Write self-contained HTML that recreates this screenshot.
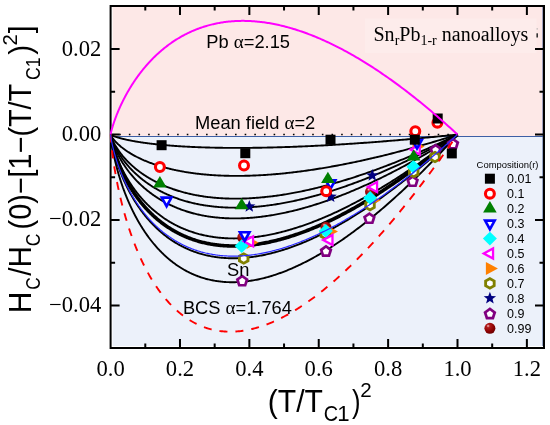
<!DOCTYPE html><html><head><meta charset="utf-8"><style>
html,body{margin:0;padding:0;background:#fff;}
svg{display:block;}
svg{will-change:transform;}
.serif{font-family:"Liberation Serif",serif;}
.sans{font-family:"Liberation Sans",sans-serif;}
</style></head><body>
<svg width="550" height="425" viewBox="0 0 550 425">
<defs>
<radialGradient id="sph" cx="0.38" cy="0.33" r="0.7" fx="0.33" fy="0.28"><stop offset="0" stop-color="#f3c9c9"/><stop offset="0.22" stop-color="#b21a1a"/><stop offset="0.7" stop-color="#8a0000"/><stop offset="1" stop-color="#6a0000"/></radialGradient>
<clipPath id="plot"><rect x="110.6" y="6.0" width="433.4" height="342.0"/></clipPath>
<clipPath id="plot2"><rect x="109.6" y="7.0" width="433.4" height="340.0"/></clipPath>
</defs>
<rect x="112.6" y="6.0" width="430.6" height="130.1" fill="#fde8e7"/>
<rect x="112.6" y="136.1" width="430.6" height="209.9" fill="#ecf1fa"/>
<line x1="110.6" y1="136.5" x2="544.0" y2="136.5" stroke="#3d5fa5" stroke-width="1"/>
<line x1="542.9" y1="7" x2="542.9" y2="346" stroke="#3a5090" stroke-width="0.8"/>
<rect x="365" y="18.5" width="171.5" height="34.5" fill="#fdeceb"/>
<rect x="536.4" y="33.3" width="1.6" height="4.2" fill="#333"/>
<rect x="536.6" y="28.3" width="1.2" height="1.2" fill="#aaa"/>
<g clip-path="url(#plot)">
<line x1="110.6" y1="134.5" x2="457.5" y2="134.5" stroke="#000" stroke-width="1.6" stroke-dasharray="1.6 8.05" stroke-dashoffset="-8.6"/>
<path d="M110.60,134.50 L110.60,134.50 L110.60,134.50 L110.61,134.51 L110.61,134.52 L110.62,134.52 L110.63,134.53 L110.65,134.55 L110.66,134.56 L110.68,134.57 L110.70,134.59 L110.73,134.61 L110.75,134.63 L110.78,134.65 L110.82,134.67 L110.85,134.70 L110.89,134.72 L110.93,134.75 L110.98,134.78 L111.03,134.81 L111.08,134.84 L111.13,134.87 L111.19,134.90 L111.25,134.94 L111.31,134.97 L111.38,135.01 L111.45,135.05 L111.52,135.09 L111.60,135.13 L111.68,135.17 L111.76,135.21 L111.85,135.25 L111.94,135.30 L112.03,135.34 L112.13,135.39 L112.23,135.44 L112.34,135.48 L112.44,135.53 L112.56,135.58 L112.67,135.63 L112.79,135.69 L112.91,135.74 L113.04,135.79 L113.17,135.85 L113.30,135.90 L113.44,135.96 L113.58,136.01 L113.72,136.07 L113.87,136.13 L114.02,136.19 L114.18,136.25 L114.34,136.31 L114.50,136.37 L114.67,136.43 L114.84,136.49 L115.01,136.55 L115.19,136.62 L115.37,136.68 L115.56,136.74 L115.75,136.81 L115.94,136.88 L116.14,136.94 L116.34,137.01 L116.55,137.08 L116.76,137.14 L116.97,137.21 L117.19,137.28 L117.41,137.35 L117.63,137.42 L117.86,137.49 L118.10,137.56 L118.33,137.63 L118.58,137.70 L118.82,137.77 L119.07,137.84 L119.33,137.92 L119.58,137.99 L119.85,138.06 L120.11,138.14 L120.38,138.21 L120.66,138.28 L120.94,138.36 L121.22,138.43 L121.51,138.51 L121.80,138.58 L122.09,138.66 L122.39,138.73 L122.70,138.81 L123.00,138.89 L123.32,138.96 L123.63,139.04 L123.95,139.12 L124.28,139.19 L124.61,139.27 L124.94,139.35 L125.28,139.43 L125.62,139.50 L125.97,139.58 L126.32,139.66 L126.67,139.74 L127.03,139.81 L127.39,139.89 L127.76,139.97 L128.14,140.05 L128.51,140.13 L128.89,140.21 L129.28,140.28 L129.67,140.36 L130.06,140.44 L130.46,140.52 L130.86,140.60 L131.27,140.68 L131.68,140.75 L132.10,140.83 L132.52,140.91 L132.95,140.99 L133.38,141.07 L133.81,141.15 L134.25,141.22 L134.69,141.30 L135.14,141.38 L135.59,141.46 L136.05,141.54 L136.51,141.61 L136.98,141.69 L137.45,141.77 L137.92,141.85 L138.40,141.92 L138.88,142.00 L139.37,142.08 L139.86,142.15 L140.36,142.23 L140.86,142.31 L141.37,142.38 L141.88,142.46 L142.40,142.54 L142.92,142.61 L143.44,142.69 L143.97,142.76 L144.51,142.84 L145.05,142.91 L145.59,142.98 L146.14,143.06 L146.69,143.13 L147.25,143.21 L147.81,143.28 L148.38,143.35 L148.95,143.42 L149.53,143.50 L150.11,143.57 L150.69,143.64 L151.28,143.71 L151.88,143.78 L152.48,143.85 L153.08,143.92 L153.69,143.99 L154.31,144.06 L154.93,144.13 L155.55,144.20 L156.18,144.27 L156.81,144.33 L157.45,144.40 L158.09,144.47 L158.74,144.54 L159.39,144.60 L160.05,144.67 L160.71,144.73 L161.37,144.80 L162.05,144.86 L162.72,144.93 L163.40,144.99 L164.09,145.05 L164.78,145.11 L165.47,145.18 L166.18,145.24 L166.88,145.30 L167.59,145.36 L168.31,145.42 L169.02,145.48 L169.75,145.54 L170.48,145.59 L171.21,145.65 L171.95,145.71 L172.70,145.76 L173.45,145.82 L174.20,145.88 L174.96,145.93 L175.72,145.98 L176.49,146.04 L177.26,146.09 L178.04,146.14 L178.83,146.19 L179.61,146.25 L180.41,146.30 L181.21,146.35 L182.01,146.39 L182.82,146.44 L183.63,146.49 L184.45,146.54 L185.27,146.58 L186.10,146.63 L186.93,146.67 L187.77,146.72 L188.61,146.76 L189.46,146.81 L190.31,146.85 L191.17,146.89 L192.03,146.93 L192.90,146.97 L193.78,147.01 L194.65,147.05 L195.54,147.09 L196.42,147.12 L197.32,147.16 L198.22,147.19 L199.12,147.23 L200.03,147.26 L200.94,147.30 L201.86,147.33 L202.78,147.36 L203.71,147.39 L204.64,147.42 L205.58,147.45 L206.53,147.48 L207.48,147.51 L208.43,147.53 L209.39,147.56 L210.35,147.58 L211.32,147.61 L212.30,147.63 L213.28,147.65 L214.26,147.67 L215.25,147.69 L216.25,147.71 L217.25,147.73 L218.25,147.75 L219.26,147.77 L220.28,147.78 L221.30,147.80 L222.32,147.81 L223.36,147.83 L224.39,147.84 L225.43,147.85 L226.48,147.86 L227.53,147.87 L228.59,147.88 L229.65,147.89 L230.72,147.90 L231.79,147.90 L232.87,147.91 L233.95,147.91 L235.04,147.91 L236.13,147.91 L237.23,147.92 L238.33,147.92 L239.44,147.91 L240.56,147.91 L241.68,147.91 L242.80,147.90 L243.93,147.90 L245.07,147.89 L246.21,147.89 L247.35,147.88 L248.50,147.87 L249.66,147.86 L250.82,147.85 L251.99,147.83 L253.16,147.82 L254.34,147.81 L255.52,147.79 L256.71,147.77 L257.90,147.76 L259.10,147.74 L260.30,147.72 L261.51,147.69 L262.73,147.67 L263.95,147.65 L265.17,147.62 L266.40,147.60 L267.64,147.57 L268.88,147.54 L270.12,147.51 L271.38,147.48 L272.63,147.45 L273.89,147.42 L275.16,147.39 L276.44,147.35 L277.71,147.32 L279.00,147.28 L280.29,147.24 L281.58,147.20 L282.88,147.16 L284.19,147.12 L285.50,147.07 L286.81,147.03 L288.13,146.98 L289.46,146.94 L290.79,146.89 L292.13,146.84 L293.47,146.79 L294.82,146.74 L296.17,146.68 L297.53,146.63 L298.90,146.57 L300.27,146.52 L301.64,146.46 L303.02,146.40 L304.41,146.34 L305.80,146.28 L307.20,146.21 L308.60,146.15 L310.01,146.08 L311.42,146.02 L312.84,145.95 L314.27,145.88 L315.70,145.81 L317.13,145.74 L318.57,145.66 L320.02,145.59 L321.47,145.51 L322.93,145.43 L324.39,145.35 L325.86,145.27 L327.33,145.19 L328.81,145.11 L330.29,145.03 L331.78,144.94 L333.28,144.85 L334.78,144.76 L336.29,144.67 L337.80,144.58 L339.31,144.49 L340.84,144.40 L342.37,144.30 L343.90,144.20 L345.44,144.11 L346.98,144.01 L348.53,143.91 L350.09,143.80 L351.65,143.70 L353.22,143.59 L354.79,143.49 L356.37,143.38 L357.95,143.27 L359.54,143.16 L361.14,143.05 L362.74,142.93 L364.34,142.82 L365.96,142.70 L367.57,142.58 L369.20,142.46 L370.82,142.34 L372.46,142.22 L374.10,142.09 L375.74,141.97 L377.39,141.84 L379.05,141.71 L380.71,141.58 L382.38,141.45 L384.05,141.32 L385.73,141.18 L387.41,141.05 L389.10,140.91 L390.80,140.77 L392.50,140.63 L394.21,140.49 L395.92,140.34 L397.64,140.20 L399.36,140.05 L401.09,139.90 L402.82,139.75 L404.56,139.60 L406.31,139.45 L408.06,139.29 L409.82,139.13 L411.58,138.98 L413.35,138.82 L415.13,138.66 L416.91,138.49 L418.69,138.33 L420.48,138.16 L422.28,137.99 L424.08,137.83 L425.89,137.65 L427.70,137.48 L429.52,137.31 L431.35,137.13 L433.18,136.96 L435.02,136.78 L436.86,136.60 L438.71,136.41 L440.56,136.23 L442.42,136.04 L444.28,135.86 L446.16,135.67 L448.03,135.48 L449.91,135.29 L451.80,135.09 L453.70,134.90 L455.59,134.70 L457.50,134.50" fill="none" stroke="#000" stroke-width="1.9"/>
<path d="M110.60,134.50 L110.60,134.50 L110.60,134.51 L110.61,134.53 L110.61,134.55 L110.62,134.58 L110.63,134.61 L110.65,134.65 L110.66,134.70 L110.68,134.75 L110.70,134.80 L110.73,134.86 L110.75,134.92 L110.78,134.99 L110.82,135.07 L110.85,135.14 L110.89,135.23 L110.93,135.31 L110.98,135.40 L111.03,135.50 L111.08,135.60 L111.13,135.70 L111.19,135.81 L111.25,135.92 L111.31,136.03 L111.38,136.15 L111.45,136.27 L111.52,136.39 L111.60,136.52 L111.68,136.65 L111.76,136.79 L111.85,136.92 L111.94,137.06 L112.03,137.21 L112.13,137.35 L112.23,137.50 L112.34,137.66 L112.44,137.81 L112.56,137.97 L112.67,138.13 L112.79,138.29 L112.91,138.46 L113.04,138.63 L113.17,138.80 L113.30,138.97 L113.44,139.15 L113.58,139.33 L113.72,139.51 L113.87,139.69 L114.02,139.88 L114.18,140.06 L114.34,140.25 L114.50,140.44 L114.67,140.64 L114.84,140.83 L115.01,141.03 L115.19,141.23 L115.37,141.43 L115.56,141.63 L115.75,141.83 L115.94,142.04 L116.14,142.25 L116.34,142.46 L116.55,142.67 L116.76,142.88 L116.97,143.09 L117.19,143.31 L117.41,143.52 L117.63,143.74 L117.86,143.96 L118.10,144.18 L118.33,144.40 L118.58,144.62 L118.82,144.85 L119.07,145.07 L119.33,145.30 L119.58,145.52 L119.85,145.75 L120.11,145.98 L120.38,146.21 L120.66,146.44 L120.94,146.67 L121.22,146.91 L121.51,147.14 L121.80,147.37 L122.09,147.61 L122.39,147.85 L122.70,148.08 L123.00,148.32 L123.32,148.56 L123.63,148.79 L123.95,149.03 L124.28,149.27 L124.61,149.51 L124.94,149.75 L125.28,149.99 L125.62,150.23 L125.97,150.47 L126.32,150.72 L126.67,150.96 L127.03,151.20 L127.39,151.44 L127.76,151.68 L128.14,151.93 L128.51,152.17 L128.89,152.41 L129.28,152.65 L129.67,152.90 L130.06,153.14 L130.46,153.38 L130.86,153.63 L131.27,153.87 L131.68,154.11 L132.10,154.35 L132.52,154.60 L132.95,154.84 L133.38,155.08 L133.81,155.32 L134.25,155.56 L134.69,155.80 L135.14,156.05 L135.59,156.29 L136.05,156.53 L136.51,156.77 L136.98,157.00 L137.45,157.24 L137.92,157.48 L138.40,157.72 L138.88,157.96 L139.37,158.19 L139.86,158.43 L140.36,158.67 L140.86,158.90 L141.37,159.13 L141.88,159.37 L142.40,159.60 L142.92,159.83 L143.44,160.06 L143.97,160.30 L144.51,160.53 L145.05,160.75 L145.59,160.98 L146.14,161.21 L146.69,161.44 L147.25,161.66 L147.81,161.89 L148.38,162.11 L148.95,162.33 L149.53,162.55 L150.11,162.77 L150.69,162.99 L151.28,163.21 L151.88,163.43 L152.48,163.64 L153.08,163.86 L153.69,164.07 L154.31,164.28 L154.93,164.50 L155.55,164.71 L156.18,164.91 L156.81,165.12 L157.45,165.33 L158.09,165.53 L158.74,165.74 L159.39,165.94 L160.05,166.14 L160.71,166.34 L161.37,166.53 L162.05,166.73 L162.72,166.92 L163.40,167.12 L164.09,167.31 L164.78,167.50 L165.47,167.69 L166.18,167.87 L166.88,168.06 L167.59,168.24 L168.31,168.43 L169.02,168.61 L169.75,168.78 L170.48,168.96 L171.21,169.14 L171.95,169.31 L172.70,169.48 L173.45,169.65 L174.20,169.82 L174.96,169.98 L175.72,170.15 L176.49,170.31 L177.26,170.47 L178.04,170.63 L178.83,170.79 L179.61,170.94 L180.41,171.09 L181.21,171.24 L182.01,171.39 L182.82,171.54 L183.63,171.68 L184.45,171.82 L185.27,171.97 L186.10,172.10 L186.93,172.24 L187.77,172.37 L188.61,172.50 L189.46,172.63 L190.31,172.76 L191.17,172.89 L192.03,173.01 L192.90,173.13 L193.78,173.25 L194.65,173.36 L195.54,173.48 L196.42,173.59 L197.32,173.70 L198.22,173.80 L199.12,173.91 L200.03,174.01 L200.94,174.11 L201.86,174.20 L202.78,174.30 L203.71,174.39 L204.64,174.48 L205.58,174.56 L206.53,174.65 L207.48,174.73 L208.43,174.81 L209.39,174.89 L210.35,174.96 L211.32,175.03 L212.30,175.10 L213.28,175.16 L214.26,175.23 L215.25,175.29 L216.25,175.35 L217.25,175.40 L218.25,175.45 L219.26,175.50 L220.28,175.55 L221.30,175.59 L222.32,175.63 L223.36,175.67 L224.39,175.71 L225.43,175.74 L226.48,175.77 L227.53,175.79 L228.59,175.82 L229.65,175.84 L230.72,175.86 L231.79,175.87 L232.87,175.88 L233.95,175.89 L235.04,175.90 L236.13,175.90 L237.23,175.90 L238.33,175.90 L239.44,175.89 L240.56,175.88 L241.68,175.87 L242.80,175.85 L243.93,175.83 L245.07,175.81 L246.21,175.78 L247.35,175.76 L248.50,175.72 L249.66,175.69 L250.82,175.65 L251.99,175.61 L253.16,175.56 L254.34,175.52 L255.52,175.46 L256.71,175.41 L257.90,175.35 L259.10,175.29 L260.30,175.23 L261.51,175.16 L262.73,175.09 L263.95,175.01 L265.17,174.93 L266.40,174.85 L267.64,174.76 L268.88,174.67 L270.12,174.58 L271.38,174.49 L272.63,174.39 L273.89,174.28 L275.16,174.18 L276.44,174.07 L277.71,173.95 L279.00,173.84 L280.29,173.71 L281.58,173.59 L282.88,173.46 L284.19,173.33 L285.50,173.19 L286.81,173.05 L288.13,172.91 L289.46,172.76 L290.79,172.61 L292.13,172.46 L293.47,172.30 L294.82,172.14 L296.17,171.97 L297.53,171.81 L298.90,171.63 L300.27,171.45 L301.64,171.27 L303.02,171.09 L304.41,170.90 L305.80,170.71 L307.20,170.51 L308.60,170.31 L310.01,170.11 L311.42,169.90 L312.84,169.69 L314.27,169.47 L315.70,169.25 L317.13,169.03 L318.57,168.80 L320.02,168.56 L321.47,168.33 L322.93,168.09 L324.39,167.84 L325.86,167.59 L327.33,167.34 L328.81,167.09 L330.29,166.82 L331.78,166.56 L333.28,166.29 L334.78,166.02 L336.29,165.74 L337.80,165.46 L339.31,165.17 L340.84,164.88 L342.37,164.59 L343.90,164.29 L345.44,163.98 L346.98,163.68 L348.53,163.37 L350.09,163.05 L351.65,162.73 L353.22,162.40 L354.79,162.08 L356.37,161.74 L357.95,161.40 L359.54,161.06 L361.14,160.72 L362.74,160.36 L364.34,160.01 L365.96,159.65 L367.57,159.29 L369.20,158.92 L370.82,158.54 L372.46,158.17 L374.10,157.78 L375.74,157.40 L377.39,157.01 L379.05,156.61 L380.71,156.21 L382.38,155.80 L384.05,155.39 L385.73,154.98 L387.41,154.56 L389.10,154.14 L390.80,153.71 L392.50,153.28 L394.21,152.84 L395.92,152.40 L397.64,151.95 L399.36,151.50 L401.09,151.04 L402.82,150.58 L404.56,150.12 L406.31,149.65 L408.06,149.17 L409.82,148.69 L411.58,148.21 L413.35,147.72 L415.13,147.22 L416.91,146.73 L418.69,146.22 L420.48,145.71 L422.28,145.20 L424.08,144.68 L425.89,144.16 L427.70,143.63 L429.52,143.10 L431.35,142.56 L433.18,142.01 L435.02,141.47 L436.86,140.91 L438.71,140.36 L440.56,139.79 L442.42,139.22 L444.28,138.65 L446.16,138.07 L448.03,137.49 L449.91,136.90 L451.80,136.31 L453.70,135.71 L455.59,135.11 L457.50,134.50" fill="none" stroke="#000" stroke-width="1.9"/>
<path d="M110.60,134.50 L110.60,134.51 L110.60,134.52 L110.61,134.55 L110.61,134.58 L110.62,134.63 L110.63,134.69 L110.65,134.75 L110.66,134.82 L110.68,134.90 L110.70,134.99 L110.73,135.09 L110.75,135.19 L110.78,135.30 L110.82,135.42 L110.85,135.54 L110.89,135.68 L110.93,135.81 L110.98,135.96 L111.03,136.11 L111.08,136.27 L111.13,136.43 L111.19,136.60 L111.25,136.78 L111.31,136.96 L111.38,137.15 L111.45,137.34 L111.52,137.54 L111.60,137.74 L111.68,137.95 L111.76,138.16 L111.85,138.38 L111.94,138.61 L112.03,138.83 L112.13,139.07 L112.23,139.30 L112.34,139.55 L112.44,139.79 L112.56,140.04 L112.67,140.30 L112.79,140.55 L112.91,140.82 L113.04,141.08 L113.17,141.35 L113.30,141.63 L113.44,141.90 L113.58,142.19 L113.72,142.47 L113.87,142.76 L114.02,143.05 L114.18,143.34 L114.34,143.64 L114.50,143.94 L114.67,144.25 L114.84,144.55 L115.01,144.86 L115.19,145.17 L115.37,145.49 L115.56,145.81 L115.75,146.13 L115.94,146.45 L116.14,146.78 L116.34,147.10 L116.55,147.43 L116.76,147.77 L116.97,148.10 L117.19,148.44 L117.41,148.78 L117.63,149.12 L117.86,149.46 L118.10,149.80 L118.33,150.15 L118.58,150.50 L118.82,150.85 L119.07,151.20 L119.33,151.55 L119.58,151.91 L119.85,152.27 L120.11,152.62 L120.38,152.98 L120.66,153.34 L120.94,153.71 L121.22,154.07 L121.51,154.43 L121.80,154.80 L122.09,155.16 L122.39,155.53 L122.70,155.90 L123.00,156.27 L123.32,156.64 L123.63,157.01 L123.95,157.38 L124.28,157.76 L124.61,158.13 L124.94,158.50 L125.28,158.88 L125.62,159.25 L125.97,159.63 L126.32,160.00 L126.67,160.38 L127.03,160.75 L127.39,161.13 L127.76,161.51 L128.14,161.88 L128.51,162.26 L128.89,162.64 L129.28,163.02 L129.67,163.39 L130.06,163.77 L130.46,164.15 L130.86,164.52 L131.27,164.90 L131.68,165.28 L132.10,165.65 L132.52,166.03 L132.95,166.40 L133.38,166.78 L133.81,167.15 L134.25,167.53 L134.69,167.90 L135.14,168.28 L135.59,168.65 L136.05,169.02 L136.51,169.39 L136.98,169.76 L137.45,170.13 L137.92,170.50 L138.40,170.87 L138.88,171.24 L139.37,171.60 L139.86,171.97 L140.36,172.33 L140.86,172.69 L141.37,173.06 L141.88,173.42 L142.40,173.78 L142.92,174.14 L143.44,174.49 L143.97,174.85 L144.51,175.20 L145.05,175.56 L145.59,175.91 L146.14,176.26 L146.69,176.61 L147.25,176.96 L147.81,177.30 L148.38,177.65 L148.95,177.99 L149.53,178.33 L150.11,178.67 L150.69,179.01 L151.28,179.35 L151.88,179.68 L152.48,180.01 L153.08,180.34 L153.69,180.67 L154.31,181.00 L154.93,181.32 L155.55,181.65 L156.18,181.97 L156.81,182.29 L157.45,182.60 L158.09,182.92 L158.74,183.23 L159.39,183.54 L160.05,183.85 L160.71,184.15 L161.37,184.46 L162.05,184.76 L162.72,185.06 L163.40,185.35 L164.09,185.65 L164.78,185.94 L165.47,186.23 L166.18,186.52 L166.88,186.80 L167.59,187.08 L168.31,187.36 L169.02,187.64 L169.75,187.91 L170.48,188.18 L171.21,188.45 L171.95,188.71 L172.70,188.98 L173.45,189.23 L174.20,189.49 L174.96,189.75 L175.72,190.00 L176.49,190.24 L177.26,190.49 L178.04,190.73 L178.83,190.97 L179.61,191.21 L180.41,191.44 L181.21,191.67 L182.01,191.89 L182.82,192.12 L183.63,192.34 L184.45,192.55 L185.27,192.77 L186.10,192.98 L186.93,193.18 L187.77,193.39 L188.61,193.59 L189.46,193.78 L190.31,193.98 L191.17,194.17 L192.03,194.35 L192.90,194.54 L193.78,194.71 L194.65,194.89 L195.54,195.06 L196.42,195.23 L197.32,195.39 L198.22,195.55 L199.12,195.71 L200.03,195.86 L200.94,196.01 L201.86,196.16 L202.78,196.30 L203.71,196.44 L204.64,196.57 L205.58,196.70 L206.53,196.83 L207.48,196.95 L208.43,197.07 L209.39,197.18 L210.35,197.29 L211.32,197.40 L212.30,197.50 L213.28,197.60 L214.26,197.69 L215.25,197.78 L216.25,197.87 L217.25,197.95 L218.25,198.03 L219.26,198.10 L220.28,198.17 L221.30,198.23 L222.32,198.29 L223.36,198.34 L224.39,198.39 L225.43,198.44 L226.48,198.48 L227.53,198.52 L228.59,198.55 L229.65,198.58 L230.72,198.60 L231.79,198.62 L232.87,198.64 L233.95,198.65 L235.04,198.65 L236.13,198.65 L237.23,198.65 L238.33,198.64 L239.44,198.62 L240.56,198.60 L241.68,198.58 L242.80,198.55 L243.93,198.52 L245.07,198.48 L246.21,198.44 L247.35,198.39 L248.50,198.33 L249.66,198.28 L250.82,198.21 L251.99,198.15 L253.16,198.07 L254.34,197.99 L255.52,197.91 L256.71,197.82 L257.90,197.73 L259.10,197.63 L260.30,197.53 L261.51,197.42 L262.73,197.30 L263.95,197.18 L265.17,197.06 L266.40,196.93 L267.64,196.79 L268.88,196.65 L270.12,196.50 L271.38,196.35 L272.63,196.19 L273.89,196.03 L275.16,195.86 L276.44,195.69 L277.71,195.51 L279.00,195.32 L280.29,195.13 L281.58,194.94 L282.88,194.74 L284.19,194.53 L285.50,194.32 L286.81,194.10 L288.13,193.87 L289.46,193.64 L290.79,193.41 L292.13,193.17 L293.47,192.92 L294.82,192.67 L296.17,192.41 L297.53,192.14 L298.90,191.87 L300.27,191.60 L301.64,191.31 L303.02,191.02 L304.41,190.73 L305.80,190.43 L307.20,190.12 L308.60,189.81 L310.01,189.49 L311.42,189.17 L312.84,188.84 L314.27,188.50 L315.70,188.16 L317.13,187.81 L318.57,187.45 L320.02,187.09 L321.47,186.73 L322.93,186.35 L324.39,185.97 L325.86,185.59 L327.33,185.19 L328.81,184.79 L330.29,184.39 L331.78,183.98 L333.28,183.56 L334.78,183.14 L336.29,182.70 L337.80,182.27 L339.31,181.82 L340.84,181.37 L342.37,180.92 L343.90,180.45 L345.44,179.98 L346.98,179.51 L348.53,179.03 L350.09,178.54 L351.65,178.04 L353.22,177.54 L354.79,177.03 L356.37,176.51 L357.95,175.99 L359.54,175.46 L361.14,174.92 L362.74,174.38 L364.34,173.83 L365.96,173.28 L367.57,172.71 L369.20,172.14 L370.82,171.56 L372.46,170.98 L374.10,170.39 L375.74,169.79 L377.39,169.19 L379.05,168.58 L380.71,167.96 L382.38,167.33 L384.05,166.70 L385.73,166.06 L387.41,165.41 L389.10,164.76 L390.80,164.10 L392.50,163.43 L394.21,162.76 L395.92,162.07 L397.64,161.39 L399.36,160.69 L401.09,159.98 L402.82,159.27 L404.56,158.56 L406.31,157.83 L408.06,157.10 L409.82,156.36 L411.58,155.61 L413.35,154.86 L415.13,154.09 L416.91,153.32 L418.69,152.55 L420.48,151.76 L422.28,150.97 L424.08,150.17 L425.89,149.37 L427.70,148.55 L429.52,147.73 L431.35,146.90 L433.18,146.07 L435.02,145.22 L436.86,144.37 L438.71,143.51 L440.56,142.65 L442.42,141.77 L444.28,140.89 L446.16,140.00 L448.03,139.10 L449.91,138.20 L451.80,137.28 L453.70,136.36 L455.59,135.44 L457.50,134.50" fill="none" stroke="#000" stroke-width="1.9"/>
<path d="M110.60,134.50 L110.60,134.51 L110.60,134.53 L110.61,134.56 L110.61,134.60 L110.62,134.65 L110.63,134.72 L110.65,134.79 L110.66,134.87 L110.68,134.97 L110.70,135.07 L110.73,135.18 L110.75,135.30 L110.78,135.43 L110.82,135.57 L110.85,135.71 L110.89,135.87 L110.93,136.03 L110.98,136.19 L111.03,136.37 L111.08,136.55 L111.13,136.74 L111.19,136.94 L111.25,137.14 L111.31,137.35 L111.38,137.57 L111.45,137.79 L111.52,138.02 L111.60,138.25 L111.68,138.49 L111.76,138.74 L111.85,138.99 L111.94,139.25 L112.03,139.51 L112.13,139.78 L112.23,140.05 L112.34,140.33 L112.44,140.61 L112.56,140.90 L112.67,141.19 L112.79,141.49 L112.91,141.79 L113.04,142.09 L113.17,142.40 L113.30,142.72 L113.44,143.04 L113.58,143.36 L113.72,143.69 L113.87,144.02 L114.02,144.35 L114.18,144.69 L114.34,145.03 L114.50,145.38 L114.67,145.73 L114.84,146.08 L115.01,146.43 L115.19,146.79 L115.37,147.15 L115.56,147.52 L115.75,147.88 L115.94,148.25 L116.14,148.63 L116.34,149.00 L116.55,149.38 L116.76,149.76 L116.97,150.15 L117.19,150.53 L117.41,150.92 L117.63,151.31 L117.86,151.70 L118.10,152.10 L118.33,152.50 L118.58,152.89 L118.82,153.30 L119.07,153.70 L119.33,154.10 L119.58,154.51 L119.85,154.92 L120.11,155.33 L120.38,155.74 L120.66,156.15 L120.94,156.56 L121.22,156.98 L121.51,157.40 L121.80,157.81 L122.09,158.23 L122.39,158.65 L122.70,159.07 L123.00,159.50 L123.32,159.92 L123.63,160.34 L123.95,160.77 L124.28,161.19 L124.61,161.62 L124.94,162.05 L125.28,162.48 L125.62,162.90 L125.97,163.33 L126.32,163.76 L126.67,164.19 L127.03,164.62 L127.39,165.05 L127.76,165.48 L128.14,165.91 L128.51,166.34 L128.89,166.77 L129.28,167.20 L129.67,167.63 L130.06,168.07 L130.46,168.50 L130.86,168.93 L131.27,169.36 L131.68,169.79 L132.10,170.21 L132.52,170.64 L132.95,171.07 L133.38,171.50 L133.81,171.93 L134.25,172.35 L134.69,172.78 L135.14,173.21 L135.59,173.63 L136.05,174.06 L136.51,174.48 L136.98,174.90 L137.45,175.32 L137.92,175.74 L138.40,176.16 L138.88,176.58 L139.37,177.00 L139.86,177.41 L140.36,177.83 L140.86,178.24 L141.37,178.66 L141.88,179.07 L142.40,179.48 L142.92,179.89 L143.44,180.29 L143.97,180.70 L144.51,181.10 L145.05,181.51 L145.59,181.91 L146.14,182.31 L146.69,182.70 L147.25,183.10 L147.81,183.49 L148.38,183.89 L148.95,184.28 L149.53,184.66 L150.11,185.05 L150.69,185.44 L151.28,185.82 L151.88,186.20 L152.48,186.58 L153.08,186.95 L153.69,187.33 L154.31,187.70 L154.93,188.07 L155.55,188.44 L156.18,188.80 L156.81,189.16 L157.45,189.52 L158.09,189.88 L158.74,190.24 L159.39,190.59 L160.05,190.94 L160.71,191.29 L161.37,191.63 L162.05,191.97 L162.72,192.31 L163.40,192.65 L164.09,192.99 L164.78,193.32 L165.47,193.64 L166.18,193.97 L166.88,194.29 L167.59,194.61 L168.31,194.93 L169.02,195.24 L169.75,195.55 L170.48,195.86 L171.21,196.16 L171.95,196.47 L172.70,196.76 L173.45,197.06 L174.20,197.35 L174.96,197.64 L175.72,197.92 L176.49,198.20 L177.26,198.48 L178.04,198.75 L178.83,199.03 L179.61,199.29 L180.41,199.56 L181.21,199.82 L182.01,200.07 L182.82,200.33 L183.63,200.58 L184.45,200.82 L185.27,201.06 L186.10,201.30 L186.93,201.53 L187.77,201.76 L188.61,201.99 L189.46,202.21 L190.31,202.43 L191.17,202.65 L192.03,202.86 L192.90,203.06 L193.78,203.27 L194.65,203.46 L195.54,203.66 L196.42,203.85 L197.32,204.03 L198.22,204.22 L199.12,204.39 L200.03,204.57 L200.94,204.73 L201.86,204.90 L202.78,205.06 L203.71,205.21 L204.64,205.37 L205.58,205.51 L206.53,205.65 L207.48,205.79 L208.43,205.92 L209.39,206.05 L210.35,206.18 L211.32,206.29 L212.30,206.41 L213.28,206.52 L214.26,206.62 L215.25,206.72 L216.25,206.82 L217.25,206.91 L218.25,206.99 L219.26,207.08 L220.28,207.15 L221.30,207.22 L222.32,207.29 L223.36,207.35 L224.39,207.40 L225.43,207.46 L226.48,207.50 L227.53,207.54 L228.59,207.58 L229.65,207.61 L230.72,207.63 L231.79,207.65 L232.87,207.67 L233.95,207.67 L235.04,207.68 L236.13,207.68 L237.23,207.67 L238.33,207.66 L239.44,207.64 L240.56,207.62 L241.68,207.59 L242.80,207.55 L243.93,207.51 L245.07,207.47 L246.21,207.42 L247.35,207.36 L248.50,207.30 L249.66,207.23 L250.82,207.16 L251.99,207.08 L253.16,206.99 L254.34,206.90 L255.52,206.80 L256.71,206.70 L257.90,206.59 L259.10,206.48 L260.30,206.36 L261.51,206.23 L262.73,206.10 L263.95,205.96 L265.17,205.82 L266.40,205.67 L267.64,205.51 L268.88,205.35 L270.12,205.18 L271.38,205.01 L272.63,204.82 L273.89,204.64 L275.16,204.44 L276.44,204.24 L277.71,204.04 L279.00,203.83 L280.29,203.61 L281.58,203.38 L282.88,203.15 L284.19,202.91 L285.50,202.67 L286.81,202.42 L288.13,202.16 L289.46,201.90 L290.79,201.63 L292.13,201.35 L293.47,201.07 L294.82,200.78 L296.17,200.48 L297.53,200.18 L298.90,199.87 L300.27,199.55 L301.64,199.23 L303.02,198.90 L304.41,198.56 L305.80,198.22 L307.20,197.87 L308.60,197.51 L310.01,197.15 L311.42,196.78 L312.84,196.40 L314.27,196.02 L315.70,195.63 L317.13,195.23 L318.57,194.82 L320.02,194.41 L321.47,193.99 L322.93,193.56 L324.39,193.13 L325.86,192.69 L327.33,192.24 L328.81,191.78 L330.29,191.32 L331.78,190.85 L333.28,190.37 L334.78,189.89 L336.29,189.40 L337.80,188.90 L339.31,188.39 L340.84,187.88 L342.37,187.36 L343.90,186.83 L345.44,186.29 L346.98,185.75 L348.53,185.20 L350.09,184.64 L351.65,184.08 L353.22,183.50 L354.79,182.92 L356.37,182.33 L357.95,181.74 L359.54,181.13 L361.14,180.52 L362.74,179.90 L364.34,179.28 L365.96,178.64 L367.57,178.00 L369.20,177.35 L370.82,176.69 L372.46,176.03 L374.10,175.36 L375.74,174.67 L377.39,173.99 L379.05,173.29 L380.71,172.58 L382.38,171.87 L384.05,171.15 L385.73,170.42 L387.41,169.69 L389.10,168.94 L390.80,168.19 L392.50,167.43 L394.21,166.66 L395.92,165.88 L397.64,165.10 L399.36,164.30 L401.09,163.50 L402.82,162.69 L404.56,161.88 L406.31,161.05 L408.06,160.22 L409.82,159.37 L411.58,158.52 L413.35,157.66 L415.13,156.80 L416.91,155.92 L418.69,155.04 L420.48,154.14 L422.28,153.24 L424.08,152.33 L425.89,151.42 L427.70,150.49 L429.52,149.56 L431.35,148.61 L433.18,147.66 L435.02,146.70 L436.86,145.73 L438.71,144.75 L440.56,143.77 L442.42,142.77 L444.28,141.77 L446.16,140.76 L448.03,139.74 L449.91,138.71 L451.80,137.67 L453.70,136.62 L455.59,135.56 L457.50,134.50" fill="none" stroke="#000" stroke-width="1.9"/>
<path d="M110.60,134.50 L110.60,134.51 L110.60,134.53 L110.61,134.57 L110.61,134.62 L110.62,134.68 L110.63,134.76 L110.65,134.84 L110.66,134.94 L110.68,135.05 L110.70,135.17 L110.73,135.30 L110.75,135.44 L110.78,135.59 L110.82,135.75 L110.85,135.92 L110.89,136.10 L110.93,136.29 L110.98,136.48 L111.03,136.69 L111.08,136.90 L111.13,137.12 L111.19,137.35 L111.25,137.58 L111.31,137.83 L111.38,138.08 L111.45,138.34 L111.52,138.60 L111.60,138.87 L111.68,139.15 L111.76,139.44 L111.85,139.73 L111.94,140.03 L112.03,140.33 L112.13,140.64 L112.23,140.96 L112.34,141.28 L112.44,141.61 L112.56,141.94 L112.67,142.28 L112.79,142.62 L112.91,142.97 L113.04,143.33 L113.17,143.69 L113.30,144.05 L113.44,144.42 L113.58,144.79 L113.72,145.17 L113.87,145.55 L114.02,145.94 L114.18,146.33 L114.34,146.72 L114.50,147.12 L114.67,147.52 L114.84,147.93 L115.01,148.34 L115.19,148.75 L115.37,149.17 L115.56,149.59 L115.75,150.01 L115.94,150.44 L116.14,150.87 L116.34,151.31 L116.55,151.74 L116.76,152.18 L116.97,152.62 L117.19,153.07 L117.41,153.52 L117.63,153.97 L117.86,154.42 L118.10,154.87 L118.33,155.33 L118.58,155.79 L118.82,156.25 L119.07,156.71 L119.33,157.18 L119.58,157.65 L119.85,158.12 L120.11,158.59 L120.38,159.06 L120.66,159.54 L120.94,160.01 L121.22,160.49 L121.51,160.97 L121.80,161.45 L122.09,161.93 L122.39,162.42 L122.70,162.90 L123.00,163.39 L123.32,163.87 L123.63,164.36 L123.95,164.85 L124.28,165.34 L124.61,165.83 L124.94,166.32 L125.28,166.81 L125.62,167.30 L125.97,167.80 L126.32,168.29 L126.67,168.78 L127.03,169.28 L127.39,169.77 L127.76,170.26 L128.14,170.76 L128.51,171.25 L128.89,171.75 L129.28,172.24 L129.67,172.74 L130.06,173.23 L130.46,173.72 L130.86,174.22 L131.27,174.71 L131.68,175.20 L132.10,175.70 L132.52,176.19 L132.95,176.68 L133.38,177.17 L133.81,177.66 L134.25,178.15 L134.69,178.64 L135.14,179.13 L135.59,179.61 L136.05,180.10 L136.51,180.58 L136.98,181.07 L137.45,181.55 L137.92,182.03 L138.40,182.51 L138.88,182.99 L139.37,183.47 L139.86,183.95 L140.36,184.42 L140.86,184.90 L141.37,185.37 L141.88,185.84 L142.40,186.31 L142.92,186.78 L143.44,187.25 L143.97,187.71 L144.51,188.17 L145.05,188.63 L145.59,189.09 L146.14,189.55 L146.69,190.00 L147.25,190.46 L147.81,190.91 L148.38,191.36 L148.95,191.80 L149.53,192.25 L150.11,192.69 L150.69,193.13 L151.28,193.57 L151.88,194.00 L152.48,194.43 L153.08,194.86 L153.69,195.29 L154.31,195.72 L154.93,196.14 L155.55,196.56 L156.18,196.98 L156.81,197.39 L157.45,197.80 L158.09,198.21 L158.74,198.62 L159.39,199.02 L160.05,199.42 L160.71,199.82 L161.37,200.21 L162.05,200.60 L162.72,200.99 L163.40,201.37 L164.09,201.75 L164.78,202.13 L165.47,202.51 L166.18,202.88 L166.88,203.25 L167.59,203.61 L168.31,203.97 L169.02,204.33 L169.75,204.68 L170.48,205.03 L171.21,205.38 L171.95,205.72 L172.70,206.06 L173.45,206.40 L174.20,206.73 L174.96,207.06 L175.72,207.38 L176.49,207.70 L177.26,208.02 L178.04,208.33 L178.83,208.64 L179.61,208.94 L180.41,209.24 L181.21,209.54 L182.01,209.83 L182.82,210.12 L183.63,210.40 L184.45,210.68 L185.27,210.96 L186.10,211.23 L186.93,211.49 L187.77,211.75 L188.61,212.01 L189.46,212.26 L190.31,212.51 L191.17,212.76 L192.03,213.00 L192.90,213.23 L193.78,213.46 L194.65,213.68 L195.54,213.90 L196.42,214.12 L197.32,214.33 L198.22,214.54 L199.12,214.74 L200.03,214.93 L200.94,215.12 L201.86,215.31 L202.78,215.49 L203.71,215.67 L204.64,215.84 L205.58,216.00 L206.53,216.16 L207.48,216.32 L208.43,216.47 L209.39,216.61 L210.35,216.75 L211.32,216.89 L212.30,217.01 L213.28,217.14 L214.26,217.25 L215.25,217.37 L216.25,217.47 L217.25,217.57 L218.25,217.67 L219.26,217.76 L220.28,217.84 L221.30,217.92 L222.32,218.00 L223.36,218.06 L224.39,218.12 L225.43,218.18 L226.48,218.23 L227.53,218.27 L228.59,218.31 L229.65,218.34 L230.72,218.37 L231.79,218.39 L232.87,218.40 L233.95,218.41 L235.04,218.41 L236.13,218.41 L237.23,218.40 L238.33,218.38 L239.44,218.36 L240.56,218.33 L241.68,218.29 L242.80,218.25 L243.93,218.21 L245.07,218.15 L246.21,218.09 L247.35,218.02 L248.50,217.95 L249.66,217.87 L250.82,217.78 L251.99,217.69 L253.16,217.59 L254.34,217.48 L255.52,217.37 L256.71,217.25 L257.90,217.12 L259.10,216.99 L260.30,216.85 L261.51,216.70 L262.73,216.55 L263.95,216.39 L265.17,216.22 L266.40,216.05 L267.64,215.87 L268.88,215.68 L270.12,215.48 L271.38,215.28 L272.63,215.07 L273.89,214.85 L275.16,214.63 L276.44,214.40 L277.71,214.16 L279.00,213.92 L280.29,213.67 L281.58,213.41 L282.88,213.14 L284.19,212.86 L285.50,212.58 L286.81,212.29 L288.13,212.00 L289.46,211.69 L290.79,211.38 L292.13,211.06 L293.47,210.74 L294.82,210.41 L296.17,210.06 L297.53,209.72 L298.90,209.36 L300.27,208.99 L301.64,208.62 L303.02,208.24 L304.41,207.86 L305.80,207.46 L307.20,207.06 L308.60,206.65 L310.01,206.23 L311.42,205.80 L312.84,205.37 L314.27,204.93 L315.70,204.48 L317.13,204.02 L318.57,203.55 L320.02,203.08 L321.47,202.60 L322.93,202.11 L324.39,201.61 L325.86,201.10 L327.33,200.59 L328.81,200.07 L330.29,199.53 L331.78,199.00 L333.28,198.45 L334.78,197.89 L336.29,197.33 L337.80,196.76 L339.31,196.18 L340.84,195.59 L342.37,194.99 L343.90,194.38 L345.44,193.77 L346.98,193.15 L348.53,192.51 L350.09,191.88 L351.65,191.23 L353.22,190.57 L354.79,189.90 L356.37,189.23 L357.95,188.55 L359.54,187.85 L361.14,187.15 L362.74,186.45 L364.34,185.73 L365.96,185.00 L367.57,184.27 L369.20,183.52 L370.82,182.77 L372.46,182.01 L374.10,181.23 L375.74,180.45 L377.39,179.67 L379.05,178.87 L380.71,178.06 L382.38,177.24 L384.05,176.42 L385.73,175.59 L387.41,174.74 L389.10,173.89 L390.80,173.03 L392.50,172.16 L394.21,171.28 L395.92,170.39 L397.64,169.49 L399.36,168.58 L401.09,167.67 L402.82,166.74 L404.56,165.80 L406.31,164.86 L408.06,163.90 L409.82,162.94 L411.58,161.97 L413.35,160.98 L415.13,159.99 L416.91,158.99 L418.69,157.98 L420.48,156.96 L422.28,155.93 L424.08,154.89 L425.89,153.84 L427.70,152.78 L429.52,151.71 L431.35,150.63 L433.18,149.54 L435.02,148.45 L436.86,147.34 L438.71,146.22 L440.56,145.09 L442.42,143.96 L444.28,142.81 L446.16,141.65 L448.03,140.48 L449.91,139.31 L451.80,138.12 L453.70,136.92 L455.59,135.72 L457.50,134.50" fill="none" stroke="#000" stroke-width="1.9"/>
<path d="M110.60,134.50 L110.60,134.51 L110.60,134.54 L110.61,134.59 L110.61,134.66 L110.62,134.74 L110.63,134.83 L110.65,134.95 L110.66,135.07 L110.68,135.22 L110.70,135.37 L110.73,135.54 L110.75,135.72 L110.78,135.91 L110.82,136.11 L110.85,136.33 L110.89,136.56 L110.93,136.80 L110.98,137.05 L111.03,137.31 L111.08,137.58 L111.13,137.86 L111.19,138.15 L111.25,138.45 L111.31,138.76 L111.38,139.08 L111.45,139.40 L111.52,139.74 L111.60,140.09 L111.68,140.44 L111.76,140.80 L111.85,141.17 L111.94,141.55 L112.03,141.93 L112.13,142.32 L112.23,142.72 L112.34,143.13 L112.44,143.54 L112.56,143.96 L112.67,144.39 L112.79,144.82 L112.91,145.26 L113.04,145.71 L113.17,146.16 L113.30,146.62 L113.44,147.08 L113.58,147.55 L113.72,148.02 L113.87,148.50 L114.02,148.99 L114.18,149.48 L114.34,149.98 L114.50,150.48 L114.67,150.98 L114.84,151.49 L115.01,152.00 L115.19,152.52 L115.37,153.05 L115.56,153.57 L115.75,154.10 L115.94,154.64 L116.14,155.18 L116.34,155.72 L116.55,156.27 L116.76,156.81 L116.97,157.37 L117.19,157.92 L117.41,158.48 L117.63,159.05 L117.86,159.61 L118.10,160.18 L118.33,160.75 L118.58,161.32 L118.82,161.90 L119.07,162.48 L119.33,163.06 L119.58,163.64 L119.85,164.23 L120.11,164.82 L120.38,165.41 L120.66,166.00 L120.94,166.59 L121.22,167.19 L121.51,167.79 L121.80,168.39 L122.09,168.99 L122.39,169.59 L122.70,170.19 L123.00,170.79 L123.32,171.40 L123.63,172.01 L123.95,172.61 L124.28,173.22 L124.61,173.83 L124.94,174.44 L125.28,175.05 L125.62,175.66 L125.97,176.28 L126.32,176.89 L126.67,177.50 L127.03,178.11 L127.39,178.73 L127.76,179.34 L128.14,179.95 L128.51,180.57 L128.89,181.18 L129.28,181.80 L129.67,182.41 L130.06,183.02 L130.46,183.63 L130.86,184.25 L131.27,184.86 L131.68,185.47 L132.10,186.08 L132.52,186.69 L132.95,187.30 L133.38,187.91 L133.81,188.51 L134.25,189.12 L134.69,189.72 L135.14,190.33 L135.59,190.93 L136.05,191.53 L136.51,192.13 L136.98,192.73 L137.45,193.33 L137.92,193.92 L138.40,194.52 L138.88,195.11 L139.37,195.70 L139.86,196.29 L140.36,196.88 L140.86,197.47 L141.37,198.05 L141.88,198.63 L142.40,199.21 L142.92,199.79 L143.44,200.36 L143.97,200.94 L144.51,201.51 L145.05,202.08 L145.59,202.64 L146.14,203.21 L146.69,203.77 L147.25,204.33 L147.81,204.88 L148.38,205.43 L148.95,205.98 L149.53,206.53 L150.11,207.08 L150.69,207.62 L151.28,208.16 L151.88,208.69 L152.48,209.23 L153.08,209.76 L153.69,210.28 L154.31,210.81 L154.93,211.32 L155.55,211.84 L156.18,212.35 L156.81,212.86 L157.45,213.37 L158.09,213.87 L158.74,214.37 L159.39,214.87 L160.05,215.36 L160.71,215.85 L161.37,216.33 L162.05,216.81 L162.72,217.28 L163.40,217.76 L164.09,218.22 L164.78,218.69 L165.47,219.15 L166.18,219.60 L166.88,220.05 L167.59,220.50 L168.31,220.94 L169.02,221.38 L169.75,221.82 L170.48,222.25 L171.21,222.67 L171.95,223.09 L172.70,223.51 L173.45,223.92 L174.20,224.32 L174.96,224.72 L175.72,225.12 L176.49,225.51 L177.26,225.90 L178.04,226.28 L178.83,226.66 L179.61,227.03 L180.41,227.40 L181.21,227.76 L182.01,228.11 L182.82,228.46 L183.63,228.81 L184.45,229.15 L185.27,229.48 L186.10,229.81 L186.93,230.14 L187.77,230.46 L188.61,230.77 L189.46,231.08 L190.31,231.38 L191.17,231.68 L192.03,231.97 L192.90,232.25 L193.78,232.53 L194.65,232.80 L195.54,233.07 L196.42,233.33 L197.32,233.58 L198.22,233.83 L199.12,234.08 L200.03,234.31 L200.94,234.54 L201.86,234.77 L202.78,234.99 L203.71,235.20 L204.64,235.40 L205.58,235.60 L206.53,235.80 L207.48,235.98 L208.43,236.16 L209.39,236.33 L210.35,236.50 L211.32,236.66 L212.30,236.81 L213.28,236.96 L214.26,237.10 L215.25,237.23 L216.25,237.36 L217.25,237.48 L218.25,237.59 L219.26,237.70 L220.28,237.80 L221.30,237.89 L222.32,237.97 L223.36,238.05 L224.39,238.12 L225.43,238.18 L226.48,238.24 L227.53,238.29 L228.59,238.33 L229.65,238.36 L230.72,238.39 L231.79,238.41 L232.87,238.42 L233.95,238.43 L235.04,238.42 L236.13,238.41 L237.23,238.39 L238.33,238.37 L239.44,238.33 L240.56,238.29 L241.68,238.24 L242.80,238.18 L243.93,238.12 L245.07,238.05 L246.21,237.97 L247.35,237.88 L248.50,237.78 L249.66,237.68 L250.82,237.56 L251.99,237.44 L253.16,237.32 L254.34,237.18 L255.52,237.03 L256.71,236.88 L257.90,236.72 L259.10,236.55 L260.30,236.37 L261.51,236.18 L262.73,235.99 L263.95,235.78 L265.17,235.57 L266.40,235.35 L267.64,235.12 L268.88,234.89 L270.12,234.64 L271.38,234.38 L272.63,234.12 L273.89,233.85 L275.16,233.57 L276.44,233.28 L277.71,232.98 L279.00,232.67 L280.29,232.36 L281.58,232.03 L282.88,231.70 L284.19,231.35 L285.50,231.00 L286.81,230.64 L288.13,230.27 L289.46,229.89 L290.79,229.50 L292.13,229.10 L293.47,228.70 L294.82,228.28 L296.17,227.85 L297.53,227.42 L298.90,226.97 L300.27,226.52 L301.64,226.06 L303.02,225.58 L304.41,225.10 L305.80,224.61 L307.20,224.11 L308.60,223.60 L310.01,223.08 L311.42,222.55 L312.84,222.01 L314.27,221.46 L315.70,220.90 L317.13,220.33 L318.57,219.75 L320.02,219.16 L321.47,218.56 L322.93,217.96 L324.39,217.34 L325.86,216.71 L327.33,216.07 L328.81,215.42 L330.29,214.76 L331.78,214.10 L333.28,213.42 L334.78,212.73 L336.29,212.03 L337.80,211.32 L339.31,210.60 L340.84,209.87 L342.37,209.13 L343.90,208.38 L345.44,207.62 L346.98,206.85 L348.53,206.07 L350.09,205.27 L351.65,204.47 L353.22,203.66 L354.79,202.83 L356.37,202.00 L357.95,201.15 L359.54,200.30 L361.14,199.43 L362.74,198.56 L364.34,197.67 L365.96,196.77 L367.57,195.86 L369.20,194.94 L370.82,194.01 L372.46,193.07 L374.10,192.11 L375.74,191.15 L377.39,190.18 L379.05,189.19 L380.71,188.19 L382.38,187.19 L384.05,186.17 L385.73,185.14 L387.41,184.10 L389.10,183.04 L390.80,181.98 L392.50,180.91 L394.21,179.82 L395.92,178.72 L397.64,177.61 L399.36,176.49 L401.09,175.36 L402.82,174.22 L404.56,173.07 L406.31,171.90 L408.06,170.72 L409.82,169.53 L411.58,168.33 L413.35,167.12 L415.13,165.90 L416.91,164.67 L418.69,163.42 L420.48,162.16 L422.28,160.89 L424.08,159.61 L425.89,158.32 L427.70,157.01 L429.52,155.69 L431.35,154.36 L433.18,153.02 L435.02,151.67 L436.86,150.31 L438.71,148.93 L440.56,147.54 L442.42,146.14 L444.28,144.73 L446.16,143.30 L448.03,141.87 L449.91,140.42 L451.80,138.96 L453.70,137.48 L455.59,136.00 L457.50,134.50" fill="none" stroke="#000" stroke-width="1.9"/>
<path d="M110.60,134.50 L110.60,134.51 L110.60,134.55 L110.61,134.61 L110.61,134.70 L110.62,134.80 L110.63,134.92 L110.65,135.06 L110.66,135.22 L110.68,135.39 L110.70,135.58 L110.73,135.79 L110.75,136.01 L110.78,136.25 L110.82,136.50 L110.85,136.77 L110.89,137.05 L110.93,137.34 L110.98,137.65 L111.03,137.97 L111.08,138.30 L111.13,138.64 L111.19,139.00 L111.25,139.36 L111.31,139.74 L111.38,140.13 L111.45,140.53 L111.52,140.94 L111.60,141.36 L111.68,141.79 L111.76,142.23 L111.85,142.68 L111.94,143.13 L112.03,143.60 L112.13,144.08 L112.23,144.56 L112.34,145.06 L112.44,145.56 L112.56,146.07 L112.67,146.58 L112.79,147.11 L112.91,147.64 L113.04,148.18 L113.17,148.73 L113.30,149.28 L113.44,149.84 L113.58,150.41 L113.72,150.98 L113.87,151.56 L114.02,152.15 L114.18,152.74 L114.34,153.34 L114.50,153.94 L114.67,154.55 L114.84,155.16 L115.01,155.78 L115.19,156.41 L115.37,157.04 L115.56,157.67 L115.75,158.31 L115.94,158.96 L116.14,159.60 L116.34,160.26 L116.55,160.91 L116.76,161.57 L116.97,162.24 L117.19,162.91 L117.41,163.58 L117.63,164.26 L117.86,164.94 L118.10,165.62 L118.33,166.30 L118.58,166.99 L118.82,167.68 L119.07,168.38 L119.33,169.08 L119.58,169.78 L119.85,170.48 L120.11,171.18 L120.38,171.89 L120.66,172.60 L120.94,173.31 L121.22,174.02 L121.51,174.74 L121.80,175.46 L122.09,176.18 L122.39,176.90 L122.70,177.62 L123.00,178.34 L123.32,179.06 L123.63,179.79 L123.95,180.52 L124.28,181.24 L124.61,181.97 L124.94,182.70 L125.28,183.43 L125.62,184.16 L125.97,184.89 L126.32,185.62 L126.67,186.36 L127.03,187.09 L127.39,187.82 L127.76,188.55 L128.14,189.29 L128.51,190.02 L128.89,190.75 L129.28,191.48 L129.67,192.21 L130.06,192.94 L130.46,193.67 L130.86,194.40 L131.27,195.13 L131.68,195.86 L132.10,196.59 L132.52,197.31 L132.95,198.04 L133.38,198.76 L133.81,199.48 L134.25,200.21 L134.69,200.93 L135.14,201.65 L135.59,202.36 L136.05,203.08 L136.51,203.79 L136.98,204.50 L137.45,205.22 L137.92,205.92 L138.40,206.63 L138.88,207.34 L139.37,208.04 L139.86,208.74 L140.36,209.44 L140.86,210.13 L141.37,210.83 L141.88,211.52 L142.40,212.20 L142.92,212.89 L143.44,213.57 L143.97,214.25 L144.51,214.93 L145.05,215.60 L145.59,216.28 L146.14,216.94 L146.69,217.61 L147.25,218.27 L147.81,218.93 L148.38,219.59 L148.95,220.24 L149.53,220.89 L150.11,221.53 L150.69,222.18 L151.28,222.81 L151.88,223.45 L152.48,224.08 L153.08,224.71 L153.69,225.33 L154.31,225.95 L154.93,226.56 L155.55,227.17 L156.18,227.78 L156.81,228.38 L157.45,228.98 L158.09,229.57 L158.74,230.16 L159.39,230.75 L160.05,231.33 L160.71,231.91 L161.37,232.48 L162.05,233.04 L162.72,233.60 L163.40,234.16 L164.09,234.71 L164.78,235.26 L165.47,235.80 L166.18,236.34 L166.88,236.87 L167.59,237.40 L168.31,237.92 L169.02,238.44 L169.75,238.95 L170.48,239.45 L171.21,239.95 L171.95,240.45 L172.70,240.94 L173.45,241.42 L174.20,241.90 L174.96,242.37 L175.72,242.84 L176.49,243.30 L177.26,243.75 L178.04,244.20 L178.83,244.64 L179.61,245.08 L180.41,245.51 L181.21,245.93 L182.01,246.35 L182.82,246.76 L183.63,247.17 L184.45,247.57 L185.27,247.96 L186.10,248.35 L186.93,248.73 L187.77,249.10 L188.61,249.47 L189.46,249.82 L190.31,250.18 L191.17,250.52 L192.03,250.86 L192.90,251.19 L193.78,251.52 L194.65,251.84 L195.54,252.15 L196.42,252.45 L197.32,252.75 L198.22,253.04 L199.12,253.32 L200.03,253.60 L200.94,253.87 L201.86,254.13 L202.78,254.38 L203.71,254.62 L204.64,254.86 L205.58,255.09 L206.53,255.32 L207.48,255.53 L208.43,255.74 L209.39,255.94 L210.35,256.13 L211.32,256.31 L212.30,256.49 L213.28,256.66 L214.26,256.82 L215.25,256.97 L216.25,257.11 L217.25,257.25 L218.25,257.37 L219.26,257.49 L220.28,257.60 L221.30,257.70 L222.32,257.80 L223.36,257.88 L224.39,257.96 L225.43,258.03 L226.48,258.09 L227.53,258.14 L228.59,258.18 L229.65,258.22 L230.72,258.24 L231.79,258.26 L232.87,258.27 L233.95,258.26 L235.04,258.25 L236.13,258.23 L237.23,258.21 L238.33,258.17 L239.44,258.12 L240.56,258.07 L241.68,258.00 L242.80,257.93 L243.93,257.84 L245.07,257.75 L246.21,257.65 L247.35,257.54 L248.50,257.42 L249.66,257.28 L250.82,257.14 L251.99,256.99 L253.16,256.84 L254.34,256.67 L255.52,256.49 L256.71,256.30 L257.90,256.10 L259.10,255.89 L260.30,255.68 L261.51,255.45 L262.73,255.21 L263.95,254.96 L265.17,254.70 L266.40,254.44 L267.64,254.16 L268.88,253.87 L270.12,253.57 L271.38,253.26 L272.63,252.94 L273.89,252.62 L275.16,252.28 L276.44,251.93 L277.71,251.57 L279.00,251.19 L280.29,250.81 L281.58,250.42 L282.88,250.02 L284.19,249.61 L285.50,249.18 L286.81,248.75 L288.13,248.30 L289.46,247.85 L290.79,247.38 L292.13,246.90 L293.47,246.41 L294.82,245.91 L296.17,245.40 L297.53,244.88 L298.90,244.35 L300.27,243.80 L301.64,243.25 L303.02,242.68 L304.41,242.11 L305.80,241.52 L307.20,240.92 L308.60,240.31 L310.01,239.68 L311.42,239.05 L312.84,238.41 L314.27,237.75 L315.70,237.08 L317.13,236.40 L318.57,235.71 L320.02,235.01 L321.47,234.29 L322.93,233.56 L324.39,232.83 L325.86,232.08 L327.33,231.32 L328.81,230.54 L330.29,229.76 L331.78,228.96 L333.28,228.15 L334.78,227.33 L336.29,226.50 L337.80,225.65 L339.31,224.79 L340.84,223.92 L342.37,223.04 L343.90,222.15 L345.44,221.24 L346.98,220.32 L348.53,219.39 L350.09,218.45 L351.65,217.49 L353.22,216.53 L354.79,215.55 L356.37,214.55 L357.95,213.55 L359.54,212.53 L361.14,211.50 L362.74,210.46 L364.34,209.40 L365.96,208.33 L367.57,207.25 L369.20,206.16 L370.82,205.05 L372.46,203.93 L374.10,202.80 L375.74,201.66 L377.39,200.50 L379.05,199.33 L380.71,198.15 L382.38,196.95 L384.05,195.74 L385.73,194.52 L387.41,193.28 L389.10,192.03 L390.80,190.77 L392.50,189.49 L394.21,188.20 L395.92,186.90 L397.64,185.59 L399.36,184.26 L401.09,182.92 L402.82,181.56 L404.56,180.19 L406.31,178.81 L408.06,177.41 L409.82,176.00 L411.58,174.58 L413.35,173.14 L415.13,171.69 L416.91,170.23 L418.69,168.75 L420.48,167.26 L422.28,165.76 L424.08,164.24 L425.89,162.70 L427.70,161.16 L429.52,159.60 L431.35,158.02 L433.18,156.43 L435.02,154.83 L436.86,153.21 L438.71,151.58 L440.56,149.94 L442.42,148.28 L444.28,146.61 L446.16,144.92 L448.03,143.22 L449.91,141.50 L451.80,139.77 L453.70,138.03 L455.59,136.27 L457.50,134.50" fill="none" stroke="#000" stroke-width="1.9"/>
<path d="M110.60,134.50 L110.60,134.52 L110.60,134.57 L110.61,134.65 L110.61,134.75 L110.62,134.88 L110.63,135.04 L110.65,135.21 L110.66,135.41 L110.68,135.63 L110.70,135.87 L110.73,136.13 L110.75,136.40 L110.78,136.70 L110.82,137.01 L110.85,137.34 L110.89,137.69 L110.93,138.05 L110.98,138.43 L111.03,138.82 L111.08,139.23 L111.13,139.66 L111.19,140.09 L111.25,140.54 L111.31,141.01 L111.38,141.49 L111.45,141.98 L111.52,142.48 L111.60,142.99 L111.68,143.52 L111.76,144.06 L111.85,144.61 L111.94,145.17 L112.03,145.74 L112.13,146.32 L112.23,146.91 L112.34,147.51 L112.44,148.12 L112.56,148.75 L112.67,149.38 L112.79,150.02 L112.91,150.66 L113.04,151.32 L113.17,151.99 L113.30,152.66 L113.44,153.34 L113.58,154.03 L113.72,154.73 L113.87,155.43 L114.02,156.14 L114.18,156.86 L114.34,157.58 L114.50,158.31 L114.67,159.05 L114.84,159.80 L115.01,160.55 L115.19,161.30 L115.37,162.07 L115.56,162.83 L115.75,163.61 L115.94,164.39 L116.14,165.17 L116.34,165.96 L116.55,166.75 L116.76,167.55 L116.97,168.35 L117.19,169.16 L117.41,169.97 L117.63,170.78 L117.86,171.60 L118.10,172.43 L118.33,173.25 L118.58,174.08 L118.82,174.92 L119.07,175.75 L119.33,176.59 L119.58,177.43 L119.85,178.28 L120.11,179.13 L120.38,179.98 L120.66,180.83 L120.94,181.68 L121.22,182.54 L121.51,183.40 L121.80,184.26 L122.09,185.13 L122.39,185.99 L122.70,186.86 L123.00,187.73 L123.32,188.59 L123.63,189.46 L123.95,190.34 L124.28,191.21 L124.61,192.08 L124.94,192.96 L125.28,193.83 L125.62,194.71 L125.97,195.58 L126.32,196.46 L126.67,197.33 L127.03,198.21 L127.39,199.09 L127.76,199.96 L128.14,200.84 L128.51,201.71 L128.89,202.59 L129.28,203.46 L129.67,204.34 L130.06,205.21 L130.46,206.08 L130.86,206.95 L131.27,207.83 L131.68,208.70 L132.10,209.56 L132.52,210.43 L132.95,211.30 L133.38,212.16 L133.81,213.02 L134.25,213.88 L134.69,214.74 L135.14,215.60 L135.59,216.45 L136.05,217.31 L136.51,218.16 L136.98,219.01 L137.45,219.85 L137.92,220.70 L138.40,221.54 L138.88,222.38 L139.37,223.21 L139.86,224.05 L140.36,224.88 L140.86,225.71 L141.37,226.53 L141.88,227.35 L142.40,228.17 L142.92,228.98 L143.44,229.80 L143.97,230.60 L144.51,231.41 L145.05,232.21 L145.59,233.01 L146.14,233.80 L146.69,234.59 L147.25,235.38 L147.81,236.16 L148.38,236.94 L148.95,237.71 L149.53,238.48 L150.11,239.25 L150.69,240.01 L151.28,240.76 L151.88,241.52 L152.48,242.26 L153.08,243.01 L153.69,243.74 L154.31,244.48 L154.93,245.20 L155.55,245.93 L156.18,246.65 L156.81,247.36 L157.45,248.07 L158.09,248.77 L158.74,249.47 L159.39,250.16 L160.05,250.84 L160.71,251.52 L161.37,252.20 L162.05,252.87 L162.72,253.53 L163.40,254.19 L164.09,254.84 L164.78,255.49 L165.47,256.13 L166.18,256.76 L166.88,257.39 L167.59,258.01 L168.31,258.62 L169.02,259.23 L169.75,259.83 L170.48,260.43 L171.21,261.02 L171.95,261.60 L172.70,262.17 L173.45,262.74 L174.20,263.30 L174.96,263.86 L175.72,264.41 L176.49,264.95 L177.26,265.48 L178.04,266.01 L178.83,266.53 L179.61,267.04 L180.41,267.54 L181.21,268.04 L182.01,268.53 L182.82,269.01 L183.63,269.49 L184.45,269.96 L185.27,270.41 L186.10,270.87 L186.93,271.31 L187.77,271.75 L188.61,272.17 L189.46,272.59 L190.31,273.00 L191.17,273.41 L192.03,273.80 L192.90,274.19 L193.78,274.57 L194.65,274.94 L195.54,275.30 L196.42,275.65 L197.32,276.00 L198.22,276.33 L199.12,276.66 L200.03,276.98 L200.94,277.29 L201.86,277.59 L202.78,277.88 L203.71,278.17 L204.64,278.44 L205.58,278.71 L206.53,278.96 L207.48,279.21 L208.43,279.45 L209.39,279.67 L210.35,279.89 L211.32,280.10 L212.30,280.30 L213.28,280.49 L214.26,280.67 L215.25,280.84 L216.25,281.01 L217.25,281.16 L218.25,281.30 L219.26,281.43 L220.28,281.55 L221.30,281.67 L222.32,281.77 L223.36,281.86 L224.39,281.94 L225.43,282.01 L226.48,282.08 L227.53,282.13 L228.59,282.17 L229.65,282.20 L230.72,282.22 L231.79,282.23 L232.87,282.23 L233.95,282.22 L235.04,282.20 L236.13,282.16 L237.23,282.12 L238.33,282.07 L239.44,282.00 L240.56,281.93 L241.68,281.84 L242.80,281.74 L243.93,281.63 L245.07,281.51 L246.21,281.38 L247.35,281.24 L248.50,281.09 L249.66,280.92 L250.82,280.75 L251.99,280.56 L253.16,280.36 L254.34,280.15 L255.52,279.93 L256.71,279.70 L257.90,279.45 L259.10,279.20 L260.30,278.93 L261.51,278.65 L262.73,278.36 L263.95,278.05 L265.17,277.74 L266.40,277.41 L267.64,277.07 L268.88,276.72 L270.12,276.36 L271.38,275.98 L272.63,275.59 L273.89,275.19 L275.16,274.78 L276.44,274.36 L277.71,273.92 L279.00,273.47 L280.29,273.01 L281.58,272.53 L282.88,272.05 L284.19,271.55 L285.50,271.04 L286.81,270.51 L288.13,269.97 L289.46,269.42 L290.79,268.86 L292.13,268.29 L293.47,267.70 L294.82,267.10 L296.17,266.48 L297.53,265.85 L298.90,265.21 L300.27,264.56 L301.64,263.89 L303.02,263.21 L304.41,262.52 L305.80,261.81 L307.20,261.09 L308.60,260.36 L310.01,259.61 L311.42,258.85 L312.84,258.08 L314.27,257.29 L315.70,256.49 L317.13,255.68 L318.57,254.85 L320.02,254.01 L321.47,253.15 L322.93,252.28 L324.39,251.40 L325.86,250.50 L327.33,249.59 L328.81,248.66 L330.29,247.73 L331.78,246.77 L333.28,245.80 L334.78,244.82 L336.29,243.83 L337.80,242.82 L339.31,241.79 L340.84,240.76 L342.37,239.70 L343.90,238.64 L345.44,237.56 L346.98,236.46 L348.53,235.35 L350.09,234.23 L351.65,233.09 L353.22,231.93 L354.79,230.76 L356.37,229.58 L357.95,228.38 L359.54,227.17 L361.14,225.94 L362.74,224.70 L364.34,223.44 L365.96,222.17 L367.57,220.88 L369.20,219.58 L370.82,218.26 L372.46,216.93 L374.10,215.58 L375.74,214.22 L377.39,212.84 L379.05,211.45 L380.71,210.04 L382.38,208.62 L384.05,207.18 L385.73,205.72 L387.41,204.25 L389.10,202.77 L390.80,201.27 L392.50,199.75 L394.21,198.22 L395.92,196.67 L397.64,195.11 L399.36,193.53 L401.09,191.94 L402.82,190.32 L404.56,188.70 L406.31,187.06 L408.06,185.40 L409.82,183.72 L411.58,182.04 L413.35,180.33 L415.13,178.61 L416.91,176.87 L418.69,175.12 L420.48,173.35 L422.28,171.56 L424.08,169.76 L425.89,167.94 L427.70,166.10 L429.52,164.25 L431.35,162.38 L433.18,160.50 L435.02,158.60 L436.86,156.68 L438.71,154.75 L440.56,152.80 L442.42,150.83 L444.28,148.85 L446.16,146.85 L448.03,144.83 L449.91,142.80 L451.80,140.75 L453.70,138.68 L455.59,136.60 L457.50,134.50" fill="none" stroke="#000" stroke-width="1.9"/>
<path d="M110.60,134.50 L110.60,134.51 L110.60,134.55 L110.61,134.60 L110.61,134.67 L110.62,134.76 L110.63,134.87 L110.65,134.99 L110.66,135.13 L110.68,135.28 L110.70,135.45 L110.73,135.63 L110.75,135.83 L110.78,136.04 L110.82,136.26 L110.85,136.49 L110.89,136.74 L110.93,137.00 L110.98,137.27 L111.03,137.55 L111.08,137.85 L111.13,138.15 L111.19,138.47 L111.25,138.79 L111.31,139.13 L111.38,139.47 L111.45,139.83 L111.52,140.19 L111.60,140.56 L111.68,140.94 L111.76,141.34 L111.85,141.73 L111.94,142.14 L112.03,142.56 L112.13,142.98 L112.23,143.41 L112.34,143.85 L112.44,144.30 L112.56,144.75 L112.67,145.21 L112.79,145.68 L112.91,146.16 L113.04,146.64 L113.17,147.12 L113.30,147.62 L113.44,148.12 L113.58,148.63 L113.72,149.14 L113.87,149.66 L114.02,150.18 L114.18,150.71 L114.34,151.24 L114.50,151.78 L114.67,152.33 L114.84,152.87 L115.01,153.43 L115.19,153.99 L115.37,154.55 L115.56,155.12 L115.75,155.69 L115.94,156.27 L116.14,156.85 L116.34,157.43 L116.55,158.02 L116.76,158.61 L116.97,159.21 L117.19,159.81 L117.41,160.41 L117.63,161.01 L117.86,161.62 L118.10,162.23 L118.33,162.85 L118.58,163.47 L118.82,164.09 L119.07,164.71 L119.33,165.33 L119.58,165.96 L119.85,166.59 L120.11,167.22 L120.38,167.86 L120.66,168.50 L120.94,169.13 L121.22,169.77 L121.51,170.42 L121.80,171.06 L122.09,171.71 L122.39,172.35 L122.70,173.00 L123.00,173.65 L123.32,174.30 L123.63,174.95 L123.95,175.61 L124.28,176.26 L124.61,176.91 L124.94,177.57 L125.28,178.23 L125.62,178.88 L125.97,179.54 L126.32,180.20 L126.67,180.86 L127.03,181.51 L127.39,182.17 L127.76,182.83 L128.14,183.49 L128.51,184.15 L128.89,184.81 L129.28,185.47 L129.67,186.12 L130.06,186.78 L130.46,187.44 L130.86,188.10 L131.27,188.75 L131.68,189.41 L132.10,190.06 L132.52,190.72 L132.95,191.37 L133.38,192.02 L133.81,192.67 L134.25,193.32 L134.69,193.97 L135.14,194.62 L135.59,195.27 L136.05,195.91 L136.51,196.56 L136.98,197.20 L137.45,197.84 L137.92,198.48 L138.40,199.12 L138.88,199.75 L139.37,200.38 L139.86,201.02 L140.36,201.65 L140.86,202.27 L141.37,202.90 L141.88,203.52 L142.40,204.14 L142.92,204.76 L143.44,205.38 L143.97,205.99 L144.51,206.60 L145.05,207.21 L145.59,207.82 L146.14,208.42 L146.69,209.03 L147.25,209.62 L147.81,210.22 L148.38,210.81 L148.95,211.40 L149.53,211.99 L150.11,212.57 L150.69,213.15 L151.28,213.73 L151.88,214.30 L152.48,214.87 L153.08,215.44 L153.69,216.00 L154.31,216.56 L154.93,217.12 L155.55,217.67 L156.18,218.22 L156.81,218.76 L157.45,219.30 L158.09,219.84 L158.74,220.38 L159.39,220.91 L160.05,221.43 L160.71,221.95 L161.37,222.47 L162.05,222.98 L162.72,223.49 L163.40,224.00 L164.09,224.50 L164.78,224.99 L165.47,225.48 L166.18,225.97 L166.88,226.45 L167.59,226.93 L168.31,227.40 L169.02,227.87 L169.75,228.34 L170.48,228.79 L171.21,229.25 L171.95,229.70 L172.70,230.14 L173.45,230.58 L174.20,231.01 L174.96,231.44 L175.72,231.86 L176.49,232.28 L177.26,232.70 L178.04,233.10 L178.83,233.50 L179.61,233.90 L180.41,234.29 L181.21,234.68 L182.01,235.06 L182.82,235.43 L183.63,235.80 L184.45,236.16 L185.27,236.52 L186.10,236.87 L186.93,237.22 L187.77,237.56 L188.61,237.89 L189.46,238.22 L190.31,238.54 L191.17,238.86 L192.03,239.16 L192.90,239.47 L193.78,239.76 L194.65,240.05 L195.54,240.34 L196.42,240.62 L197.32,240.89 L198.22,241.15 L199.12,241.41 L200.03,241.66 L200.94,241.91 L201.86,242.15 L202.78,242.38 L203.71,242.60 L204.64,242.82 L205.58,243.03 L206.53,243.24 L207.48,243.43 L208.43,243.62 L209.39,243.81 L210.35,243.98 L211.32,244.15 L212.30,244.32 L213.28,244.47 L214.26,244.62 L215.25,244.76 L216.25,244.89 L217.25,245.02 L218.25,245.14 L219.26,245.25 L220.28,245.35 L221.30,245.45 L222.32,245.53 L223.36,245.62 L224.39,245.69 L225.43,245.75 L226.48,245.81 L227.53,245.86 L228.59,245.90 L229.65,245.94 L230.72,245.96 L231.79,245.98 L232.87,245.99 L233.95,245.99 L235.04,245.99 L236.13,245.97 L237.23,245.95 L238.33,245.92 L239.44,245.88 L240.56,245.84 L241.68,245.78 L242.80,245.72 L243.93,245.65 L245.07,245.57 L246.21,245.48 L247.35,245.38 L248.50,245.28 L249.66,245.16 L250.82,245.04 L251.99,244.91 L253.16,244.77 L254.34,244.62 L255.52,244.46 L256.71,244.29 L257.90,244.12 L259.10,243.93 L260.30,243.74 L261.51,243.54 L262.73,243.33 L263.95,243.11 L265.17,242.88 L266.40,242.64 L267.64,242.39 L268.88,242.14 L270.12,241.87 L271.38,241.59 L272.63,241.31 L273.89,241.02 L275.16,240.71 L276.44,240.40 L277.71,240.08 L279.00,239.75 L280.29,239.41 L281.58,239.06 L282.88,238.70 L284.19,238.33 L285.50,237.95 L286.81,237.56 L288.13,237.16 L289.46,236.75 L290.79,236.33 L292.13,235.90 L293.47,235.47 L294.82,235.02 L296.17,234.56 L297.53,234.09 L298.90,233.61 L300.27,233.13 L301.64,232.63 L303.02,232.12 L304.41,231.60 L305.80,231.07 L307.20,230.53 L308.60,229.98 L310.01,229.43 L311.42,228.86 L312.84,228.28 L314.27,227.69 L315.70,227.08 L317.13,226.47 L318.57,225.85 L320.02,225.22 L321.47,224.58 L322.93,223.92 L324.39,223.26 L325.86,222.58 L327.33,221.90 L328.81,221.20 L330.29,220.50 L331.78,219.78 L333.28,219.05 L334.78,218.31 L336.29,217.56 L337.80,216.80 L339.31,216.03 L340.84,215.24 L342.37,214.45 L343.90,213.64 L345.44,212.83 L346.98,212.00 L348.53,211.16 L350.09,210.31 L351.65,209.45 L353.22,208.58 L354.79,207.70 L356.37,206.80 L357.95,205.90 L359.54,204.98 L361.14,204.05 L362.74,203.11 L364.34,202.16 L365.96,201.19 L367.57,200.22 L369.20,199.23 L370.82,198.23 L372.46,197.22 L374.10,196.20 L375.74,195.17 L377.39,194.13 L379.05,193.07 L380.71,192.00 L382.38,190.92 L384.05,189.83 L385.73,188.73 L387.41,187.61 L389.10,186.48 L390.80,185.34 L392.50,184.19 L394.21,183.03 L395.92,181.85 L397.64,180.67 L399.36,179.47 L401.09,178.25 L402.82,177.03 L404.56,175.79 L406.31,174.54 L408.06,173.28 L409.82,172.01 L411.58,170.73 L413.35,169.43 L415.13,168.12 L416.91,166.80 L418.69,165.46 L420.48,164.11 L422.28,162.75 L424.08,161.38 L425.89,160.00 L427.70,158.60 L429.52,157.19 L431.35,155.76 L433.18,154.33 L435.02,152.88 L436.86,151.42 L438.71,149.95 L440.56,148.46 L442.42,146.96 L444.28,145.45 L446.16,143.92 L448.03,142.38 L449.91,140.83 L451.80,139.27 L453.70,137.69 L455.59,136.10 L457.50,134.50" fill="none" stroke="#000" stroke-width="3.6"/>
</g>
<circle cx="242.80" cy="237.50" r="5.5" fill="url(#sph)"/>
<circle cx="326.00" cy="227.30" r="5.5" fill="url(#sph)"/>
<circle cx="370.50" cy="191.80" r="5.5" fill="url(#sph)"/>
<polygon points="242.20,274.39 235.78,279.06 238.23,286.61 246.17,286.61 248.62,279.06" fill="#800080"/><polygon points="242.20,277.77 238.99,280.10 240.22,283.88 244.18,283.88 245.41,280.10" fill="#fff"/>
<polygon points="326.00,244.69 319.58,249.36 322.03,256.91 329.97,256.91 332.42,249.36" fill="#800080"/><polygon points="326.00,248.07 322.79,250.40 324.02,254.18 327.98,254.18 329.21,250.40" fill="#fff"/>
<polygon points="369.40,211.89 362.98,216.56 365.43,224.11 373.37,224.11 375.82,216.56" fill="#800080"/><polygon points="369.40,215.27 366.19,217.60 367.42,221.38 371.38,221.38 372.61,217.60" fill="#fff"/>
<polygon points="412.60,174.89 406.18,179.56 408.63,187.11 416.57,187.11 419.02,179.56" fill="#800080"/><polygon points="412.60,178.27 409.39,180.60 410.62,184.38 414.58,184.38 415.81,180.60" fill="#fff"/>
<polygon points="435.60,143.39 429.18,148.06 431.63,155.61 439.57,155.61 442.02,148.06" fill="#800080"/><polygon points="435.60,146.77 432.39,149.10 433.62,152.88 437.58,152.88 438.81,149.10" fill="#fff"/>
<polygon points="453.00,137.39 446.58,142.06 449.03,149.61 456.97,149.61 459.42,142.06" fill="#800080"/><polygon points="453.00,140.77 449.79,143.10 451.02,146.88 454.98,146.88 456.21,143.10" fill="#fff"/>
<polygon points="249.30,199.90 247.68,204.18 243.12,204.39 246.68,207.25 245.48,211.66 249.30,209.15 253.12,211.66 251.92,207.25 255.48,204.39 250.92,204.18" fill="#000080"/>
<polygon points="330.70,190.20 329.08,194.48 324.52,194.69 328.08,197.55 326.88,201.96 330.70,199.45 334.52,201.96 333.32,197.55 336.88,194.69 332.32,194.48" fill="#000080"/>
<polygon points="372.30,168.90 370.68,173.18 366.12,173.39 369.68,176.25 368.48,180.66 372.30,178.15 376.12,180.66 374.92,176.25 378.48,173.39 373.92,173.18" fill="#000080"/>
<polygon points="258.50,242.50 246.50,236.00 246.50,249.00" fill="#ff8000"/>
<polygon points="338.00,231.50 326.00,225.00 326.00,238.00" fill="#ff8000"/>
<polygon points="380.80,200.20 368.80,193.70 368.80,206.70" fill="#ff8000"/>
<polygon points="424.50,146.50 412.50,140.00 412.50,153.00" fill="#ff8000"/>
<polygon points="243.70,252.20 249.40,255.35 249.40,261.65 243.70,264.80 238.00,261.65 238.00,255.35" fill="#808000"/><polygon points="243.70,255.35 246.55,256.93 246.55,260.07 243.70,261.65 240.85,260.07 240.85,256.93" fill="#fff"/>
<polygon points="325.30,227.70 331.00,230.85 331.00,237.15 325.30,240.30 319.60,237.15 319.60,230.85" fill="#808000"/><polygon points="325.30,230.85 328.15,232.43 328.15,235.57 325.30,237.15 322.45,235.57 322.45,232.43" fill="#fff"/>
<polygon points="370.00,198.90 375.70,202.05 375.70,208.35 370.00,211.50 364.30,208.35 364.30,202.05" fill="#808000"/><polygon points="370.00,202.05 372.85,203.62 372.85,206.77 370.00,208.35 367.15,206.77 367.15,203.62" fill="#fff"/>
<polygon points="413.70,165.70 419.40,168.85 419.40,175.15 413.70,178.30 408.00,175.15 408.00,168.85" fill="#808000"/><polygon points="413.70,168.85 416.55,170.43 416.55,173.57 413.70,175.15 410.85,173.57 410.85,170.43" fill="#fff"/>
<polygon points="435.00,150.70 440.70,153.85 440.70,160.15 435.00,163.30 429.30,160.15 429.30,153.85" fill="#808000"/><polygon points="435.00,153.85 437.85,155.43 437.85,158.57 435.00,160.15 432.15,158.57 432.15,155.43" fill="#fff"/>
<polygon points="241.70,239.25 248.70,246.10 241.70,252.95 234.70,246.10" fill="#00ffff"/>
<polygon points="325.80,224.05 332.80,230.90 325.80,237.75 318.80,230.90" fill="#00ffff"/>
<polygon points="370.10,191.05 377.10,197.90 370.10,204.75 363.10,197.90" fill="#00ffff"/>
<polygon points="413.40,159.95 420.40,166.80 413.40,173.65 406.40,166.80" fill="#00ffff"/>
<polygon points="241.40,241.30 254.20,234.40 254.20,248.20" fill="#ff00ff"/><polygon points="246.17,241.30 251.93,238.19 251.93,244.41" fill="#fff"/>
<polygon points="320.80,240.00 333.60,233.10 333.60,246.90" fill="#ff00ff"/><polygon points="325.57,240.00 331.33,236.89 331.33,243.10" fill="#fff"/>
<polygon points="365.40,187.10 378.20,180.20 378.20,194.00" fill="#ff00ff"/><polygon points="370.17,187.10 375.93,184.00 375.93,190.20" fill="#fff"/>
<polygon points="408.10,149.50 420.90,142.60 420.90,156.40" fill="#ff00ff"/><polygon points="412.87,149.50 418.63,146.40 418.63,152.61" fill="#fff"/>
<polygon points="159.60,196.30 173.60,196.30 166.60,208.90" fill="#0000ff"/><polygon points="164.08,198.94 169.12,198.94 166.60,203.47" fill="#fff"/>
<polygon points="237.70,230.90 251.70,230.90 244.70,243.50" fill="#0000ff"/><polygon points="242.18,233.54 247.22,233.54 244.70,238.07" fill="#fff"/>
<polygon points="323.50,178.90 337.50,178.90 330.50,191.50" fill="#0000ff"/><polygon points="327.98,181.54 333.02,181.54 330.50,186.07" fill="#fff"/>
<polygon points="410.00,138.70 424.00,138.70 417.00,151.30" fill="#0000ff"/><polygon points="414.48,141.34 419.52,141.34 417.00,145.87" fill="#fff"/>
<polygon points="159.90,176.00 166.70,187.40 153.10,187.40" fill="#008000"/>
<polygon points="241.70,197.90 248.50,209.30 234.90,209.30" fill="#008000"/>
<polygon points="327.90,171.70 334.70,183.10 321.10,183.10" fill="#008000"/>
<polygon points="413.70,149.20 420.50,160.60 406.90,160.60" fill="#008000"/>
<circle cx="159.90" cy="167.00" r="4.45" fill="#fff" stroke="#ff0000" stroke-width="3.1"/>
<circle cx="244.00" cy="165.50" r="4.45" fill="#fff" stroke="#ff0000" stroke-width="3.1"/>
<circle cx="326.20" cy="191.20" r="4.45" fill="#fff" stroke="#ff0000" stroke-width="3.1"/>
<circle cx="415.30" cy="131.20" r="4.45" fill="#fff" stroke="#ff0000" stroke-width="3.1"/>
<circle cx="437.40" cy="122.70" r="4.45" fill="#fff" stroke="#ff0000" stroke-width="3.1"/>
<rect x="156.60" y="140.20" width="10.00" height="10.00" fill="#000"/>
<rect x="240.30" y="148.20" width="10.00" height="10.00" fill="#000"/>
<rect x="325.50" y="134.70" width="10.00" height="10.00" fill="#000"/>
<rect x="409.80" y="134.70" width="10.00" height="10.00" fill="#000"/>
<rect x="432.70" y="113.50" width="10.00" height="10.00" fill="#000"/>
<rect x="446.80" y="148.40" width="10.00" height="10.00" fill="#000"/>
<rect x="110.6" y="6.0" width="433.4" height="342.0" fill="none" stroke="#000" stroke-width="2"/>
<path d="M145.29,348.00 V343.50 M145.29,6.00 V10.50 M179.98,348.00 V339.00 M179.98,6.00 V15.00 M214.67,348.00 V343.50 M214.67,6.00 V10.50 M249.36,348.00 V339.00 M249.36,6.00 V15.00 M284.05,348.00 V343.50 M284.05,6.00 V10.50 M318.74,348.00 V339.00 M318.74,6.00 V15.00 M353.43,348.00 V343.50 M353.43,6.00 V10.50 M388.12,348.00 V339.00 M388.12,6.00 V15.00 M422.81,348.00 V343.50 M422.81,6.00 V10.50 M457.50,348.00 V339.00 M457.50,6.00 V15.00 M492.19,348.00 V343.50 M492.19,6.00 V10.50 M526.88,348.00 V339.00 M526.88,6.00 V15.00 M110.60,305.38 H119.60 M544.00,305.38 H535.00 M110.60,262.66 H115.10 M544.00,262.66 H539.50 M110.60,219.94 H119.60 M544.00,219.94 H535.00 M110.60,177.22 H115.10 M544.00,177.22 H539.50 M110.60,134.50 H119.60 M544.00,134.50 H535.00 M110.60,91.78 H115.10 M544.00,91.78 H539.50 M110.60,49.06 H119.60 M544.00,49.06 H535.00" stroke="#000" stroke-width="2" fill="none"/>
<g clip-path="url(#plot2)">
<path d="M110.60,134.50 L110.60,134.49 L110.60,134.48 L110.61,134.45 L110.61,134.41 L110.62,134.36 L110.63,134.29 L110.65,134.22 L110.66,134.13 L110.68,134.03 L110.70,133.92 L110.73,133.80 L110.75,133.66 L110.78,133.52 L110.82,133.36 L110.85,133.20 L110.89,133.02 L110.93,132.83 L110.98,132.64 L111.03,132.43 L111.08,132.21 L111.13,131.99 L111.19,131.75 L111.25,131.50 L111.31,131.25 L111.38,130.98 L111.45,130.71 L111.52,130.42 L111.60,130.13 L111.68,129.83 L111.76,129.52 L111.85,129.20 L111.94,128.88 L112.03,128.54 L112.13,128.20 L112.23,127.85 L112.34,127.49 L112.44,127.12 L112.56,126.75 L112.67,126.37 L112.79,125.98 L112.91,125.58 L113.04,125.18 L113.17,124.77 L113.30,124.35 L113.44,123.93 L113.58,123.50 L113.72,123.06 L113.87,122.62 L114.02,122.17 L114.18,121.71 L114.34,121.25 L114.50,120.78 L114.67,120.30 L114.84,119.82 L115.01,119.34 L115.19,118.84 L115.37,118.35 L115.56,117.84 L115.75,117.34 L115.94,116.82 L116.14,116.30 L116.34,115.78 L116.55,115.25 L116.76,114.72 L116.97,114.18 L117.19,113.64 L117.41,113.09 L117.63,112.54 L117.86,111.99 L118.10,111.43 L118.33,110.86 L118.58,110.29 L118.82,109.72 L119.07,109.15 L119.33,108.57 L119.58,107.98 L119.85,107.40 L120.11,106.81 L120.38,106.21 L120.66,105.62 L120.94,105.02 L121.22,104.41 L121.51,103.81 L121.80,103.20 L122.09,102.59 L122.39,101.97 L122.70,101.35 L123.00,100.73 L123.32,100.11 L123.63,99.49 L123.95,98.86 L124.28,98.23 L124.61,97.60 L124.94,96.97 L125.28,96.33 L125.62,95.69 L125.97,95.05 L126.32,94.41 L126.67,93.77 L127.03,93.13 L127.39,92.48 L127.76,91.84 L128.14,91.19 L128.51,90.54 L128.89,89.89 L129.28,89.24 L129.67,88.58 L130.06,87.93 L130.46,87.28 L130.86,86.62 L131.27,85.97 L131.68,85.31 L132.10,84.65 L132.52,84.00 L132.95,83.34 L133.38,82.68 L133.81,82.03 L134.25,81.37 L134.69,80.71 L135.14,80.05 L135.59,79.40 L136.05,78.74 L136.51,78.08 L136.98,77.42 L137.45,76.77 L137.92,76.11 L138.40,75.46 L138.88,74.80 L139.37,74.15 L139.86,73.50 L140.36,72.85 L140.86,72.19 L141.37,71.54 L141.88,70.90 L142.40,70.25 L142.92,69.60 L143.44,68.96 L143.97,68.31 L144.51,67.67 L145.05,67.03 L145.59,66.39 L146.14,65.75 L146.69,65.12 L147.25,64.48 L147.81,63.85 L148.38,63.22 L148.95,62.60 L149.53,61.97 L150.11,61.35 L150.69,60.73 L151.28,60.11 L151.88,59.49 L152.48,58.88 L153.08,58.26 L153.69,57.66 L154.31,57.05 L154.93,56.45 L155.55,55.84 L156.18,55.25 L156.81,54.65 L157.45,54.06 L158.09,53.47 L158.74,52.89 L159.39,52.30 L160.05,51.72 L160.71,51.15 L161.37,50.58 L162.05,50.01 L162.72,49.44 L163.40,48.88 L164.09,48.32 L164.78,47.77 L165.47,47.22 L166.18,46.67 L166.88,46.13 L167.59,45.59 L168.31,45.05 L169.02,44.52 L169.75,44.00 L170.48,43.47 L171.21,42.96 L171.95,42.44 L172.70,41.93 L173.45,41.43 L174.20,40.93 L174.96,40.43 L175.72,39.94 L176.49,39.46 L177.26,38.98 L178.04,38.50 L178.83,38.03 L179.61,37.56 L180.41,37.10 L181.21,36.65 L182.01,36.19 L182.82,35.75 L183.63,35.31 L184.45,34.87 L185.27,34.44 L186.10,34.02 L186.93,33.60 L187.77,33.19 L188.61,32.78 L189.46,32.38 L190.31,31.99 L191.17,31.60 L192.03,31.21 L192.90,30.83 L193.78,30.46 L194.65,30.10 L195.54,29.74 L196.42,29.39 L197.32,29.04 L198.22,28.70 L199.12,28.36 L200.03,28.04 L200.94,27.71 L201.86,27.40 L202.78,27.09 L203.71,26.79 L204.64,26.50 L205.58,26.21 L206.53,25.93 L207.48,25.65 L208.43,25.39 L209.39,25.13 L210.35,24.87 L211.32,24.63 L212.30,24.39 L213.28,24.16 L214.26,23.94 L215.25,23.72 L216.25,23.51 L217.25,23.31 L218.25,23.11 L219.26,22.93 L220.28,22.75 L221.30,22.58 L222.32,22.42 L223.36,22.26 L224.39,22.11 L225.43,21.97 L226.48,21.84 L227.53,21.72 L228.59,21.60 L229.65,21.50 L230.72,21.40 L231.79,21.31 L232.87,21.22 L233.95,21.15 L235.04,21.08 L236.13,21.03 L237.23,20.98 L238.33,20.94 L239.44,20.91 L240.56,20.89 L241.68,20.87 L242.80,20.87 L243.93,20.87 L245.07,20.88 L246.21,20.91 L247.35,20.94 L248.50,20.98 L249.66,21.03 L250.82,21.08 L251.99,21.15 L253.16,21.23 L254.34,21.32 L255.52,21.41 L256.71,21.52 L257.90,21.63 L259.10,21.75 L260.30,21.89 L261.51,22.03 L262.73,22.19 L263.95,22.35 L265.17,22.52 L266.40,22.70 L267.64,22.90 L268.88,23.10 L270.12,23.31 L271.38,23.54 L272.63,23.77 L273.89,24.01 L275.16,24.26 L276.44,24.53 L277.71,24.80 L279.00,25.09 L280.29,25.38 L281.58,25.69 L282.88,26.00 L284.19,26.33 L285.50,26.67 L286.81,27.01 L288.13,27.37 L289.46,27.74 L290.79,28.12 L292.13,28.51 L293.47,28.92 L294.82,29.33 L296.17,29.75 L297.53,30.19 L298.90,30.63 L300.27,31.09 L301.64,31.56 L303.02,32.04 L304.41,32.53 L305.80,33.04 L307.20,33.55 L308.60,34.08 L310.01,34.61 L311.42,35.16 L312.84,35.72 L314.27,36.30 L315.70,36.88 L317.13,37.48 L318.57,38.08 L320.02,38.70 L321.47,39.34 L322.93,39.98 L324.39,40.63 L325.86,41.30 L327.33,41.98 L328.81,42.67 L330.29,43.38 L331.78,44.10 L333.28,44.82 L334.78,45.57 L336.29,46.32 L337.80,47.09 L339.31,47.86 L340.84,48.66 L342.37,49.46 L343.90,50.28 L345.44,51.11 L346.98,51.95 L348.53,52.80 L350.09,53.67 L351.65,54.55 L353.22,55.44 L354.79,56.35 L356.37,57.27 L357.95,58.20 L359.54,59.15 L361.14,60.11 L362.74,61.08 L364.34,62.07 L365.96,63.07 L367.57,64.08 L369.20,65.10 L370.82,66.14 L372.46,67.19 L374.10,68.26 L375.74,69.34 L377.39,70.43 L379.05,71.54 L380.71,72.66 L382.38,73.80 L384.05,74.95 L385.73,76.11 L387.41,77.28 L389.10,78.47 L390.80,79.68 L392.50,80.90 L394.21,82.13 L395.92,83.38 L397.64,84.64 L399.36,85.91 L401.09,87.20 L402.82,88.50 L404.56,89.82 L406.31,91.15 L408.06,92.50 L409.82,93.86 L411.58,95.24 L413.35,96.63 L415.13,98.03 L416.91,99.45 L418.69,100.89 L420.48,102.34 L422.28,103.80 L424.08,105.28 L425.89,106.78 L427.70,108.29 L429.52,109.81 L431.35,111.35 L433.18,112.90 L435.02,114.47 L436.86,116.06 L438.71,117.66 L440.56,119.27 L442.42,120.90 L444.28,122.55 L446.16,124.21 L448.03,125.88 L449.91,127.58 L451.80,129.28 L453.70,131.01 L455.59,132.75 L457.50,134.50" fill="none" stroke="#ff00ff" stroke-width="2.0"/>
<path d="M110.60,134.50 L110.60,134.53 L110.60,134.61 L110.61,134.73 L110.61,134.89 L110.62,135.09 L110.63,135.32 L110.65,135.58 L110.66,135.88 L110.68,136.20 L110.70,136.55 L110.73,136.93 L110.75,137.33 L110.78,137.76 L110.82,138.21 L110.85,138.69 L110.89,139.19 L110.93,139.71 L110.98,140.25 L111.03,140.82 L111.08,141.40 L111.13,142.00 L111.19,142.63 L111.25,143.27 L111.31,143.93 L111.38,144.60 L111.45,145.29 L111.52,146.00 L111.60,146.73 L111.68,147.47 L111.76,148.23 L111.85,149.00 L111.94,149.78 L112.03,150.58 L112.13,151.40 L112.23,152.23 L112.34,153.07 L112.44,153.92 L112.56,154.78 L112.67,155.66 L112.79,156.55 L112.91,157.45 L113.04,158.36 L113.17,159.28 L113.30,160.22 L113.44,161.16 L113.58,162.11 L113.72,163.08 L113.87,164.05 L114.02,165.03 L114.18,166.02 L114.34,167.02 L114.50,168.02 L114.67,169.04 L114.84,170.06 L115.01,171.09 L115.19,172.13 L115.37,173.18 L115.56,174.23 L115.75,175.29 L115.94,176.36 L116.14,177.43 L116.34,178.51 L116.55,179.59 L116.76,180.68 L116.97,181.78 L117.19,182.88 L117.41,183.98 L117.63,185.09 L117.86,186.21 L118.10,187.33 L118.33,188.45 L118.58,189.58 L118.82,190.71 L119.07,191.85 L119.33,192.99 L119.58,194.13 L119.85,195.28 L120.11,196.43 L120.38,197.58 L120.66,198.73 L120.94,199.89 L121.22,201.05 L121.51,202.21 L121.80,203.38 L122.09,204.54 L122.39,205.71 L122.70,206.88 L123.00,208.05 L123.32,209.22 L123.63,210.39 L123.95,211.57 L124.28,212.74 L124.61,213.92 L124.94,215.09 L125.28,216.27 L125.62,217.44 L125.97,218.62 L126.32,219.80 L126.67,220.97 L127.03,222.15 L127.39,223.32 L127.76,224.50 L128.14,225.67 L128.51,226.85 L128.89,228.02 L129.28,229.19 L129.67,230.36 L130.06,231.53 L130.46,232.69 L130.86,233.86 L131.27,235.02 L131.68,236.18 L132.10,237.34 L132.52,238.49 L132.95,239.65 L133.38,240.80 L133.81,241.95 L134.25,243.10 L134.69,244.24 L135.14,245.38 L135.59,246.52 L136.05,247.65 L136.51,248.78 L136.98,249.91 L137.45,251.04 L137.92,252.16 L138.40,253.27 L138.88,254.39 L139.37,255.50 L139.86,256.60 L140.36,257.70 L140.86,258.80 L141.37,259.89 L141.88,260.98 L142.40,262.06 L142.92,263.14 L143.44,264.21 L143.97,265.28 L144.51,266.34 L145.05,267.40 L145.59,268.45 L146.14,269.50 L146.69,270.54 L147.25,271.58 L147.81,272.61 L148.38,273.63 L148.95,274.65 L149.53,275.67 L150.11,276.67 L150.69,277.67 L151.28,278.67 L151.88,279.66 L152.48,280.64 L153.08,281.61 L153.69,282.58 L154.31,283.54 L154.93,284.50 L155.55,285.44 L156.18,286.39 L156.81,287.32 L157.45,288.25 L158.09,289.16 L158.74,290.08 L159.39,290.98 L160.05,291.88 L160.71,292.77 L161.37,293.65 L162.05,294.52 L162.72,295.39 L163.40,296.24 L164.09,297.09 L164.78,297.93 L165.47,298.76 L166.18,299.59 L166.88,300.40 L167.59,301.21 L168.31,302.01 L169.02,302.80 L169.75,303.58 L170.48,304.35 L171.21,305.12 L171.95,305.87 L172.70,306.61 L173.45,307.35 L174.20,308.08 L174.96,308.79 L175.72,309.50 L176.49,310.20 L177.26,310.89 L178.04,311.56 L178.83,312.23 L179.61,312.89 L180.41,313.54 L181.21,314.18 L182.01,314.81 L182.82,315.43 L183.63,316.03 L184.45,316.63 L185.27,317.22 L186.10,317.80 L186.93,318.36 L187.77,318.92 L188.61,319.46 L189.46,320.00 L190.31,320.52 L191.17,321.03 L192.03,321.53 L192.90,322.02 L193.78,322.50 L194.65,322.97 L195.54,323.43 L196.42,323.87 L197.32,324.30 L198.22,324.73 L199.12,325.14 L200.03,325.53 L200.94,325.92 L201.86,326.30 L202.78,326.66 L203.71,327.01 L204.64,327.35 L205.58,327.68 L206.53,327.99 L207.48,328.29 L208.43,328.58 L209.39,328.86 L210.35,329.12 L211.32,329.38 L212.30,329.62 L213.28,329.84 L214.26,330.06 L215.25,330.26 L216.25,330.45 L217.25,330.63 L218.25,330.79 L219.26,330.94 L220.28,331.07 L221.30,331.20 L222.32,331.31 L223.36,331.40 L224.39,331.49 L225.43,331.56 L226.48,331.61 L227.53,331.66 L228.59,331.69 L229.65,331.70 L230.72,331.70 L231.79,331.69 L232.87,331.66 L233.95,331.62 L235.04,331.57 L236.13,331.50 L237.23,331.42 L238.33,331.32 L239.44,331.21 L240.56,331.08 L241.68,330.94 L242.80,330.79 L243.93,330.62 L245.07,330.44 L246.21,330.24 L247.35,330.02 L248.50,329.80 L249.66,329.55 L250.82,329.30 L251.99,329.02 L253.16,328.74 L254.34,328.43 L255.52,328.11 L256.71,327.78 L257.90,327.43 L259.10,327.07 L260.30,326.69 L261.51,326.29 L262.73,325.88 L263.95,325.46 L265.17,325.02 L266.40,324.56 L267.64,324.09 L268.88,323.60 L270.12,323.09 L271.38,322.57 L272.63,322.04 L273.89,321.48 L275.16,320.91 L276.44,320.33 L277.71,319.73 L279.00,319.11 L280.29,318.48 L281.58,317.83 L282.88,317.16 L284.19,316.48 L285.50,315.78 L286.81,315.06 L288.13,314.33 L289.46,313.58 L290.79,312.81 L292.13,312.03 L293.47,311.23 L294.82,310.41 L296.17,309.58 L297.53,308.73 L298.90,307.86 L300.27,306.98 L301.64,306.07 L303.02,305.15 L304.41,304.22 L305.80,303.26 L307.20,302.29 L308.60,301.30 L310.01,300.30 L311.42,299.27 L312.84,298.23 L314.27,297.17 L315.70,296.09 L317.13,295.00 L318.57,293.89 L320.02,292.76 L321.47,291.61 L322.93,290.44 L324.39,289.26 L325.86,288.05 L327.33,286.83 L328.81,285.59 L330.29,284.34 L331.78,283.06 L333.28,281.77 L334.78,280.45 L336.29,279.12 L337.80,277.77 L339.31,276.41 L340.84,275.02 L342.37,273.61 L343.90,272.19 L345.44,270.75 L346.98,269.29 L348.53,267.81 L350.09,266.31 L351.65,264.79 L353.22,263.25 L354.79,261.70 L356.37,260.12 L357.95,258.53 L359.54,256.91 L361.14,255.28 L362.74,253.63 L364.34,251.96 L365.96,250.27 L367.57,248.56 L369.20,246.83 L370.82,245.08 L372.46,243.31 L374.10,241.52 L375.74,239.71 L377.39,237.89 L379.05,236.04 L380.71,234.17 L382.38,232.28 L384.05,230.38 L385.73,228.45 L387.41,226.50 L389.10,224.54 L390.80,222.55 L392.50,220.54 L394.21,218.52 L395.92,216.47 L397.64,214.40 L399.36,212.31 L401.09,210.20 L402.82,208.08 L404.56,205.93 L406.31,203.76 L408.06,201.57 L409.82,199.35 L411.58,197.12 L413.35,194.87 L415.13,192.60 L416.91,190.30 L418.69,187.99 L420.48,185.65 L422.28,183.30 L424.08,180.92 L425.89,178.52 L427.70,176.10 L429.52,173.66 L431.35,171.20 L433.18,168.72 L435.02,166.22 L436.86,163.69 L438.71,161.14 L440.56,158.58 L442.42,155.99 L444.28,153.38 L446.16,150.74 L448.03,148.09 L449.91,145.42 L451.80,142.72 L453.70,140.00 L455.59,137.26 L457.50,134.50" fill="none" stroke="#ff0000" stroke-width="1.9" stroke-dasharray="8 8" stroke-dashoffset="0"/>
<path d="M110.60,134.50 L110.60,134.51 L110.60,134.55 L110.61,134.61 L110.61,134.69 L110.62,134.79 L110.63,134.91 L110.65,135.05 L110.66,135.20 L110.68,135.37 L110.70,135.56 L110.73,135.76 L110.75,135.98 L110.78,136.21 L110.82,136.46 L110.85,136.72 L110.89,136.99 L110.93,137.28 L110.98,137.58 L111.03,137.89 L111.08,138.22 L111.13,138.56 L111.19,138.90 L111.25,139.26 L111.31,139.63 L111.38,140.01 L111.45,140.41 L111.52,140.81 L111.60,141.22 L111.68,141.64 L111.76,142.07 L111.85,142.51 L111.94,142.96 L112.03,143.42 L112.13,143.89 L112.23,144.36 L112.34,144.84 L112.44,145.34 L112.56,145.84 L112.67,146.34 L112.79,146.86 L112.91,147.38 L113.04,147.91 L113.17,148.45 L113.30,148.99 L113.44,149.54 L113.58,150.10 L113.72,150.66 L113.87,151.23 L114.02,151.80 L114.18,152.38 L114.34,152.97 L114.50,153.56 L114.67,154.16 L114.84,154.76 L115.01,155.37 L115.19,155.99 L115.37,156.60 L115.56,157.23 L115.75,157.85 L115.94,158.49 L116.14,159.12 L116.34,159.76 L116.55,160.41 L116.76,161.06 L116.97,161.71 L117.19,162.37 L117.41,163.03 L117.63,163.69 L117.86,164.36 L118.10,165.03 L118.33,165.70 L118.58,166.38 L118.82,167.06 L119.07,167.74 L119.33,168.42 L119.58,169.11 L119.85,169.80 L120.11,170.49 L120.38,171.19 L120.66,171.88 L120.94,172.58 L121.22,173.28 L121.51,173.99 L121.80,174.69 L122.09,175.40 L122.39,176.10 L122.70,176.81 L123.00,177.52 L123.32,178.24 L123.63,178.95 L123.95,179.66 L124.28,180.38 L124.61,181.09 L124.94,181.81 L125.28,182.53 L125.62,183.24 L125.97,183.96 L126.32,184.68 L126.67,185.40 L127.03,186.12 L127.39,186.84 L127.76,187.56 L128.14,188.28 L128.51,189.00 L128.89,189.72 L129.28,190.43 L129.67,191.15 L130.06,191.87 L130.46,192.59 L130.86,193.31 L131.27,194.02 L131.68,194.74 L132.10,195.45 L132.52,196.17 L132.95,196.88 L133.38,197.59 L133.81,198.30 L134.25,199.01 L134.69,199.72 L135.14,200.42 L135.59,201.13 L136.05,201.83 L136.51,202.54 L136.98,203.24 L137.45,203.93 L137.92,204.63 L138.40,205.33 L138.88,206.02 L139.37,206.71 L139.86,207.40 L140.36,208.08 L140.86,208.77 L141.37,209.45 L141.88,210.13 L142.40,210.80 L142.92,211.48 L143.44,212.15 L143.97,212.82 L144.51,213.48 L145.05,214.15 L145.59,214.81 L146.14,215.47 L146.69,216.12 L147.25,216.77 L147.81,217.42 L148.38,218.06 L148.95,218.71 L149.53,219.34 L150.11,219.98 L150.69,220.61 L151.28,221.24 L151.88,221.86 L152.48,222.48 L153.08,223.10 L153.69,223.71 L154.31,224.32 L154.93,224.92 L155.55,225.52 L156.18,226.12 L156.81,226.71 L157.45,227.30 L158.09,227.89 L158.74,228.47 L159.39,229.04 L160.05,229.61 L160.71,230.18 L161.37,230.74 L162.05,231.30 L162.72,231.85 L163.40,232.40 L164.09,232.94 L164.78,233.48 L165.47,234.01 L166.18,234.54 L166.88,235.07 L167.59,235.58 L168.31,236.10 L169.02,236.61 L169.75,237.11 L170.48,237.61 L171.21,238.10 L171.95,238.59 L172.70,239.07 L173.45,239.54 L174.20,240.01 L174.96,240.48 L175.72,240.94 L176.49,241.39 L177.26,241.84 L178.04,242.28 L178.83,242.71 L179.61,243.14 L180.41,243.57 L181.21,243.98 L182.01,244.40 L182.82,244.80 L183.63,245.20 L184.45,245.59 L185.27,245.98 L186.10,246.36 L186.93,246.73 L187.77,247.10 L188.61,247.46 L189.46,247.81 L190.31,248.16 L191.17,248.50 L192.03,248.84 L192.90,249.16 L193.78,249.48 L194.65,249.80 L195.54,250.10 L196.42,250.40 L197.32,250.70 L198.22,250.98 L199.12,251.26 L200.03,251.53 L200.94,251.80 L201.86,252.05 L202.78,252.30 L203.71,252.54 L204.64,252.78 L205.58,253.01 L206.53,253.22 L207.48,253.44 L208.43,253.64 L209.39,253.84 L210.35,254.03 L211.32,254.21 L212.30,254.38 L213.28,254.55 L214.26,254.70 L215.25,254.85 L216.25,255.00 L217.25,255.13 L218.25,255.26 L219.26,255.37 L220.28,255.48 L221.30,255.58 L222.32,255.68 L223.36,255.76 L224.39,255.84 L225.43,255.91 L226.48,255.97 L227.53,256.02 L228.59,256.06 L229.65,256.09 L230.72,256.12 L231.79,256.13 L232.87,256.14 L233.95,256.14 L235.04,256.13 L236.13,256.11 L237.23,256.09 L238.33,256.05 L239.44,256.01 L240.56,255.95 L241.68,255.89 L242.80,255.82 L243.93,255.73 L245.07,255.64 L246.21,255.54 L247.35,255.43 L248.50,255.32 L249.66,255.19 L250.82,255.05 L251.99,254.91 L253.16,254.75 L254.34,254.58 L255.52,254.41 L256.71,254.22 L257.90,254.03 L259.10,253.83 L260.30,253.61 L261.51,253.39 L262.73,253.16 L263.95,252.91 L265.17,252.66 L266.40,252.40 L267.64,252.12 L268.88,251.84 L270.12,251.55 L271.38,251.25 L272.63,250.93 L273.89,250.61 L275.16,250.28 L276.44,249.93 L277.71,249.58 L279.00,249.22 L280.29,248.84 L281.58,248.46 L282.88,248.06 L284.19,247.66 L285.50,247.24 L286.81,246.81 L288.13,246.38 L289.46,245.93 L290.79,245.47 L292.13,245.00 L293.47,244.52 L294.82,244.03 L296.17,243.53 L297.53,243.02 L298.90,242.49 L300.27,241.96 L301.64,241.41 L303.02,240.86 L304.41,240.29 L305.80,239.71 L307.20,239.12 L308.60,238.52 L310.01,237.91 L311.42,237.29 L312.84,236.66 L314.27,236.01 L315.70,235.35 L317.13,234.69 L318.57,234.01 L320.02,233.32 L321.47,232.61 L322.93,231.90 L324.39,231.17 L325.86,230.44 L327.33,229.69 L328.81,228.93 L330.29,228.16 L331.78,227.37 L333.28,226.58 L334.78,225.77 L336.29,224.95 L337.80,224.12 L339.31,223.28 L340.84,222.42 L342.37,221.56 L343.90,220.68 L345.44,219.79 L346.98,218.89 L348.53,217.97 L350.09,217.05 L351.65,216.11 L353.22,215.16 L354.79,214.19 L356.37,213.22 L357.95,212.23 L359.54,211.23 L361.14,210.22 L362.74,209.19 L364.34,208.15 L365.96,207.10 L367.57,206.04 L369.20,204.96 L370.82,203.88 L372.46,202.78 L374.10,201.66 L375.74,200.54 L377.39,199.40 L379.05,198.25 L380.71,197.09 L382.38,195.91 L384.05,194.72 L385.73,193.52 L387.41,192.30 L389.10,191.07 L390.80,189.83 L392.50,188.58 L394.21,187.31 L395.92,186.03 L397.64,184.74 L399.36,183.43 L401.09,182.11 L402.82,180.78 L404.56,179.43 L406.31,178.07 L408.06,176.70 L409.82,175.31 L411.58,173.92 L413.35,172.50 L415.13,171.08 L416.91,169.64 L418.69,168.18 L420.48,166.72 L422.28,165.24 L424.08,163.74 L425.89,162.24 L427.70,160.72 L429.52,159.18 L431.35,157.63 L433.18,156.07 L435.02,154.49 L436.86,152.90 L438.71,151.30 L440.56,149.68 L442.42,148.05 L444.28,146.41 L446.16,144.75 L448.03,143.08 L449.91,141.39 L451.80,139.69 L453.70,137.97 L455.59,136.24 L457.50,134.50" fill="none" stroke="#2a2aff" stroke-width="1.2"/>
</g>
<text class="serif" x="110.60" y="376" font-size="22.6" text-anchor="middle">0.0</text>
<text class="serif" x="179.98" y="376" font-size="22.6" text-anchor="middle">0.2</text>
<text class="serif" x="249.36" y="376" font-size="22.6" text-anchor="middle">0.4</text>
<text class="serif" x="318.74" y="376" font-size="22.6" text-anchor="middle">0.6</text>
<text class="serif" x="388.12" y="376" font-size="22.6" text-anchor="middle">0.8</text>
<text class="serif" x="457.50" y="376" font-size="22.6" text-anchor="middle">1.0</text>
<text class="serif" x="526.88" y="376" font-size="22.6" text-anchor="middle">1.2</text>
<text class="serif" x="101.3" y="55.56" font-size="22.6" text-anchor="end">0.02</text>
<text class="serif" x="101.3" y="141.00" font-size="22.6" text-anchor="end">0.00</text>
<text class="serif" x="101.3" y="226.44" font-size="22.6" text-anchor="end">−0.02</text>
<text class="serif" x="101.3" y="311.88" font-size="22.6" text-anchor="end">−0.04</text>
<text class="sans" x="206.3" y="47.7" font-size="18.3">Pb <tspan font-family="Liberation Serif" font-size="19">α</tspan>=2.15</text>
<text class="sans" x="195.0" y="129.4" font-size="18.3">Mean field <tspan font-family="Liberation Serif" font-size="19">α</tspan>=2</text>
<text class="sans" x="182.9" y="314.1" font-size="18.3">BCS <tspan font-family="Liberation Serif" font-size="19">α</tspan>=1.764</text>
<text class="sans" x="227" y="276" font-size="18.3">Sn</text>
<text class="serif" x="373.5" y="41" font-size="20">Sn<tspan font-size="14" dy="4">r</tspan><tspan dy="-4">Pb</tspan><tspan font-size="14" dy="4">1-r</tspan><tspan dy="-4"> nanoalloys</tspan></text>
<text class="sans" x="476.6" y="168.2" font-size="9.45">Composition(r)</text>
<rect x="484.90" y="173.70" width="10.00" height="10.00" fill="#000"/>
<text class="sans" x="507.1" y="183.10" font-size="12.5">0.01</text>
<circle cx="489.90" cy="193.66" r="4.45" fill="#fff" stroke="#ff0000" stroke-width="3.1"/>
<text class="sans" x="507.1" y="198.06" font-size="12.5">0.1</text>
<polygon points="489.90,201.02 496.70,212.42 483.10,212.42" fill="#008000"/>
<text class="sans" x="507.1" y="213.02" font-size="12.5">0.2</text>
<polygon points="482.90,219.36 496.90,219.36 489.90,231.96" fill="#0000ff"/><polygon points="487.38,222.00 492.42,222.00 489.90,226.54" fill="#fff"/>
<text class="sans" x="507.1" y="227.98" font-size="12.5">0.3</text>
<polygon points="489.90,231.69 496.90,238.54 489.90,245.39 482.90,238.54" fill="#00ffff"/>
<text class="sans" x="507.1" y="242.94" font-size="12.5">0.4</text>
<polygon points="481.37,253.50 494.17,246.60 494.17,260.40" fill="#ff00ff"/><polygon points="486.14,253.50 491.90,250.40 491.90,256.61" fill="#fff"/>
<text class="sans" x="507.1" y="257.90" font-size="12.5">0.5</text>
<polygon points="497.90,268.46 485.90,261.96 485.90,274.96" fill="#ff8000"/>
<text class="sans" x="507.1" y="272.86" font-size="12.5">0.6</text>
<polygon points="489.90,277.12 495.60,280.27 495.60,286.57 489.90,289.72 484.20,286.57 484.20,280.27" fill="#808000"/><polygon points="489.90,280.27 492.75,281.84 492.75,284.99 489.90,286.57 487.05,284.99 487.05,281.84" fill="#fff"/>
<text class="sans" x="507.1" y="287.82" font-size="12.5">0.7</text>
<polygon points="489.90,291.68 488.28,295.96 483.72,296.17 487.28,299.03 486.08,303.44 489.90,300.93 493.72,303.44 492.52,299.03 496.08,296.17 491.52,295.96" fill="#000080"/>
<text class="sans" x="507.1" y="302.78" font-size="12.5">0.8</text>
<polygon points="489.90,307.23 483.48,311.90 485.93,319.45 493.87,319.45 496.32,311.90" fill="#800080"/><polygon points="489.90,310.61 486.69,312.94 487.92,316.72 491.88,316.72 493.11,312.94" fill="#fff"/>
<text class="sans" x="507.1" y="317.74" font-size="12.5">0.9</text>
<circle cx="489.90" cy="328.30" r="5.5" fill="url(#sph)"/>
<text class="sans" x="507.1" y="332.70" font-size="12.5">0.99</text>
<text class="sans" transform="translate(31.20,313.25) rotate(-90) scale(0.9644,1)" font-size="31.0">H</text>
<text class="sans" transform="translate(40.10,289.87) rotate(-90) scale(0.8396,1)" font-size="20.5">C</text>
<text class="sans" transform="translate(31.20,275.80) rotate(-90) scale(0.9623,1)" font-size="31.0">/H</text>
<text class="sans" transform="translate(40.10,246.19) rotate(-90) scale(0.8550,1)" font-size="20.5">C</text>
<text class="sans" transform="translate(31.20,229.39) rotate(-90) scale(0.9291,1)" font-size="31.0">(0)−[1−(T/T</text>
<text class="sans" transform="translate(40.10,80.00) rotate(-90) scale(0.8649,1)" font-size="20.5">C1</text>
<text class="sans" transform="translate(31.20,54.77) rotate(-90) scale(0.9612,1)" font-size="31.0">)</text>
<text class="sans" transform="translate(16.80,45.43) rotate(-90) scale(0.9958,1)" font-size="20.5">2</text>
<text class="sans" transform="translate(31.20,33.32) rotate(-90) scale(0.8928,1)" font-size="31.0">]</text>
<text class="sans" transform="translate(267.73,411.60) scale(0.9709,1)" font-size="31.0">(T/T</text>
<text class="sans" transform="translate(323.69,420.70) scale(0.8962,1)" font-size="22.2">C</text>
<text class="sans" transform="translate(337.14,420.70) scale(1.0000,1)" font-size="22.2">1</text>
<text class="sans" transform="translate(352.05,411.60) scale(0.8273,1)" font-size="31.0">)</text>
<text class="sans" transform="translate(360.16,396.70) scale(1.0065,1)" font-size="20.5">2</text>
</svg></body></html>
